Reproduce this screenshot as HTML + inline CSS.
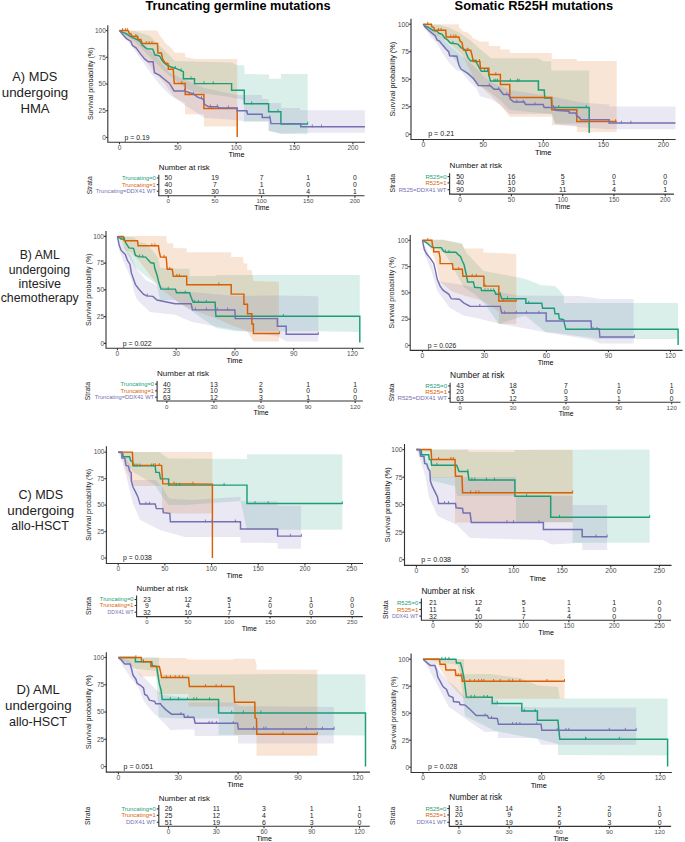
<!DOCTYPE html>
<html><head><meta charset="utf-8"><style>
html,body{margin:0;padding:0;background:#fff;width:685px;height:842px;overflow:hidden}
svg{display:block}
text{font-family:"Liberation Sans", sans-serif}
</style></head><body>
<svg width="685" height="842" viewBox="0 0 685 842">
<rect width="685" height="842" fill="#fff"/>
<text x="145.50" y="10.30" font-size="12.7" text-anchor="start" fill="#000" font-weight="bold" textLength="185" lengthAdjust="spacingAndGlyphs" >Truncating germline mutations</text>
<text x="454.60" y="10.30" font-size="12.7" text-anchor="start" fill="#000" font-weight="bold" textLength="158.5" lengthAdjust="spacingAndGlyphs" >Somatic R525H mutations</text>
<text x="34.75" y="80.90" font-size="13.2" text-anchor="middle" fill="#222" font-weight="normal" textLength="44.9" lengthAdjust="spacingAndGlyphs" >A) MDS</text>
<text x="35.02" y="96.90" font-size="13.2" text-anchor="middle" fill="#222" font-weight="normal" textLength="66.5" lengthAdjust="spacingAndGlyphs" >undergoing</text>
<text x="35.00" y="112.60" font-size="13.2" text-anchor="middle" fill="#222" font-weight="normal" textLength="29.2" lengthAdjust="spacingAndGlyphs" >HMA</text>
<text x="39.75" y="258.90" font-size="12.4" text-anchor="middle" fill="#222" font-weight="normal" textLength="40.1" lengthAdjust="spacingAndGlyphs" >B) AML</text>
<text x="39.43" y="273.50" font-size="12.4" text-anchor="middle" fill="#222" font-weight="normal" textLength="61.3" lengthAdjust="spacingAndGlyphs" >undergoing</text>
<text x="39.75" y="287.80" font-size="12.4" text-anchor="middle" fill="#222" font-weight="normal" textLength="42.7" lengthAdjust="spacingAndGlyphs" >intesive</text>
<text x="39.75" y="302.00" font-size="12.4" text-anchor="middle" fill="#222" font-weight="normal" textLength="78.1" lengthAdjust="spacingAndGlyphs" >chemotherapy</text>
<text x="40.75" y="498.90" font-size="13.2" text-anchor="middle" fill="#222" font-weight="normal" textLength="44.7" lengthAdjust="spacingAndGlyphs" >C) MDS</text>
<text x="40.70" y="514.70" font-size="13.2" text-anchor="middle" fill="#222" font-weight="normal" textLength="67.0" lengthAdjust="spacingAndGlyphs" >undergoing</text>
<text x="40.10" y="530.40" font-size="13.2" text-anchor="middle" fill="#222" font-weight="normal" textLength="57.8" lengthAdjust="spacingAndGlyphs" >allo-HSCT</text>
<text x="38.10" y="693.80" font-size="13.2" text-anchor="middle" fill="#222" font-weight="normal" textLength="43.4" lengthAdjust="spacingAndGlyphs" >D) AML</text>
<text x="38.30" y="709.80" font-size="13.2" text-anchor="middle" fill="#222" font-weight="normal" textLength="66.6" lengthAdjust="spacingAndGlyphs" >undergoing</text>
<text x="37.95" y="725.50" font-size="13.2" text-anchor="middle" fill="#222" font-weight="normal" textLength="58.1" lengthAdjust="spacingAndGlyphs" >allo-HSCT</text>
<polygon points="119.5,30.4 135.0,31.0 150.0,36.0 160.0,46.0 170.0,56.0 175.0,61.0 232.0,62.4 237.0,65.3 244.2,65.3 244.7,74.0 269.0,74.6 269.0,78.7 281.0,78.7 281.0,74.0 307.7,74.0 307.7,134.2 281.0,133.8 268.6,130.7 268.6,121.5 244.0,121.5 244.0,100.0 230.0,97.0 195.0,92.0 185.0,88.0 175.0,80.0 165.0,72.0 155.0,62.0 145.0,52.0 135.0,42.0 125.0,35.0" fill="#1B9E77" fill-opacity="0.16" stroke="none"/>
<polygon points="119.5,30.4 157.0,30.4 158.8,33.8 160.5,36.4 162.7,39.0 164.9,42.5 167.6,45.1 171.0,47.8 174.7,52.4 185.2,53.0 185.2,57.1 195.0,58.9 237.2,58.9 237.2,126.6 204.0,126.6 204.0,114.3 185.0,114.3 185.0,103.0 174.0,97.0 165.0,84.0 150.0,66.0 140.0,53.0 130.0,42.0 122.0,33.0" fill="#D95F02" fill-opacity="0.16" stroke="none"/>
<polygon points="119.5,30.4 130.0,33.0 145.0,45.0 155.0,55.0 170.0,73.0 185.0,80.0 204.0,88.0 237.0,95.0 262.0,95.0 262.0,99.0 268.6,99.0 268.6,103.0 281.0,103.0 281.0,108.0 300.0,108.0 300.0,110.2 364.9,110.2 364.9,132.8 300.0,132.8 281.0,133.8 268.6,130.7 268.6,121.5 244.0,121.5 237.0,120.0 204.0,117.8 185.0,105.0 170.0,95.0 160.0,85.0 150.0,72.0 140.0,58.0 130.0,44.0 121.0,33.3" fill="#7570B3" fill-opacity="0.16" stroke="none"/>
<polyline points="119.5,30.6 120.3,31.1 122.9,32.4 126.4,33.8 130.3,36.4 133.8,38.1 136.9,39.5 140.4,41.6 142.2,45.1 146.5,48.6 152.7,49.1 154.9,54.8 159.7,56.1 161.9,60.0 164.0,62.7 166.7,64.9 171.0,67.0 175.3,68.2 183.4,71.7 183.4,78.7 194.5,78.7 194.5,83.6 231.6,83.6 231.6,90.2 244.3,90.2 244.3,103.8 268.6,103.8 268.6,111.7 280.9,111.7 280.9,124.0 307.7,124.0" fill="none" stroke="#1B9E77" stroke-width="1.45" stroke-linejoin="miter"/>
<polyline points="119.5,30.4 128.1,30.4 129.5,33.8 130.8,33.8 132.1,36.4 137.3,36.2 138.2,39.5 140.8,39.5 142.2,43.4 157.5,43.4 157.9,53.0 161.4,53.0 162.7,59.2 164.9,62.7 168.0,63.5 168.4,69.2 173.2,69.2 174.2,83.4 185.2,83.4 185.2,94.5 203.9,94.5 203.9,108.5 237.2,108.5 237.2,137.1" fill="none" stroke="#D95F02" stroke-width="1.45" stroke-linejoin="miter"/>
<polyline points="119.4,30.4 122.0,33.8 126.4,38.6 130.8,41.2 132.5,45.6 136.0,47.8 140.4,53.9 144.8,59.2 148.3,61.8 153.1,61.8 154.4,72.7 159.7,75.4 164.9,79.7 169.3,83.2 174.1,91.0 184.6,91.0 193.4,93.9 198.0,97.4 203.3,99.1 204.5,104.4 208.5,106.7 217.9,106.7 219.0,107.9 237.2,107.9 237.2,110.8 246.5,110.8 247.7,114.3 262.2,114.3 262.2,117.5 270.0,117.5 271.0,123.6 300.7,123.6 300.7,126.8 364.9,126.8" fill="none" stroke="#7570B3" stroke-width="1.45" stroke-linejoin="miter"/>
<path d="M107.80,25.20 V142.30 H364.90" fill="none" stroke="#333333" stroke-width="1.10"/>
<line x1="105.80" y1="137.40" x2="107.80" y2="137.40" stroke="#333333" stroke-width="1.1"/>
<text x="105.80" y="139.70" font-size="6.5" text-anchor="end" fill="#4d4d4d" font-weight="normal" >0</text>
<line x1="105.80" y1="110.70" x2="107.80" y2="110.70" stroke="#333333" stroke-width="1.1"/>
<text x="105.80" y="113.00" font-size="6.5" text-anchor="end" fill="#4d4d4d" font-weight="normal" >25</text>
<line x1="105.80" y1="84.00" x2="107.80" y2="84.00" stroke="#333333" stroke-width="1.1"/>
<text x="105.80" y="86.30" font-size="6.5" text-anchor="end" fill="#4d4d4d" font-weight="normal" >50</text>
<line x1="105.80" y1="57.30" x2="107.80" y2="57.30" stroke="#333333" stroke-width="1.1"/>
<text x="105.80" y="59.60" font-size="6.5" text-anchor="end" fill="#4d4d4d" font-weight="normal" >75</text>
<line x1="105.80" y1="30.60" x2="107.80" y2="30.60" stroke="#333333" stroke-width="1.1"/>
<text x="105.80" y="32.90" font-size="6.5" text-anchor="end" fill="#4d4d4d" font-weight="normal" >100</text>
<line x1="119.50" y1="142.30" x2="119.50" y2="144.30" stroke="#333333" stroke-width="1.1"/>
<text x="119.50" y="149.70" font-size="6.6" text-anchor="middle" fill="#4d4d4d" font-weight="normal" >0</text>
<line x1="177.85" y1="142.30" x2="177.85" y2="144.30" stroke="#333333" stroke-width="1.1"/>
<text x="177.85" y="149.70" font-size="6.6" text-anchor="middle" fill="#4d4d4d" font-weight="normal" >50</text>
<line x1="236.20" y1="142.30" x2="236.20" y2="144.30" stroke="#333333" stroke-width="1.1"/>
<text x="236.20" y="149.70" font-size="6.6" text-anchor="middle" fill="#4d4d4d" font-weight="normal" >100</text>
<line x1="294.55" y1="142.30" x2="294.55" y2="144.30" stroke="#333333" stroke-width="1.1"/>
<text x="294.55" y="149.70" font-size="6.6" text-anchor="middle" fill="#4d4d4d" font-weight="normal" >150</text>
<line x1="352.90" y1="142.30" x2="352.90" y2="144.30" stroke="#333333" stroke-width="1.1"/>
<text x="352.90" y="149.70" font-size="6.6" text-anchor="middle" fill="#4d4d4d" font-weight="normal" >200</text>
<text x="236.50" y="157.30" font-size="7.3" text-anchor="middle" fill="#000" font-weight="normal" >Time</text>
<text x="0" y="0" font-size="7.10" text-anchor="middle" fill="#222" transform="translate(93.00,83.75) rotate(-90)">Survival probability (%)</text>
<text x="124.60" y="139.70" font-size="6.9" text-anchor="start" fill="#222" font-weight="normal" >p = 0.19</text>
<path d="M158.80,174.70 V195.70 H364.50" fill="none" stroke="#333333" stroke-width="1.10"/>
<text x="158.80" y="170.00" font-size="7.85" text-anchor="start" fill="#111" font-weight="normal" >Number at risk</text>
<line x1="156.80" y1="178.00" x2="158.80" y2="178.00" stroke="#333333" stroke-width="1.1"/>
<text x="155.80" y="180.00" font-size="5.82" text-anchor="end" fill="#1B9E77" font-weight="normal" >Truncating=0</text>
<text x="168.30" y="180.40" font-size="6.8" text-anchor="middle" fill="#222" font-weight="normal" >50</text>
<text x="214.95" y="180.40" font-size="6.8" text-anchor="middle" fill="#222" font-weight="normal" >19</text>
<text x="261.60" y="180.40" font-size="6.8" text-anchor="middle" fill="#222" font-weight="normal" >7</text>
<text x="308.25" y="180.40" font-size="6.8" text-anchor="middle" fill="#222" font-weight="normal" >1</text>
<text x="354.90" y="180.40" font-size="6.8" text-anchor="middle" fill="#222" font-weight="normal" >0</text>
<line x1="156.80" y1="184.60" x2="158.80" y2="184.60" stroke="#333333" stroke-width="1.1"/>
<text x="155.80" y="186.60" font-size="5.82" text-anchor="end" fill="#D95F02" font-weight="normal" >Truncating=1</text>
<text x="168.30" y="187.00" font-size="6.8" text-anchor="middle" fill="#222" font-weight="normal" >40</text>
<text x="214.95" y="187.00" font-size="6.8" text-anchor="middle" fill="#222" font-weight="normal" >7</text>
<text x="261.60" y="187.00" font-size="6.8" text-anchor="middle" fill="#222" font-weight="normal" >1</text>
<text x="308.25" y="187.00" font-size="6.8" text-anchor="middle" fill="#222" font-weight="normal" >0</text>
<text x="354.90" y="187.00" font-size="6.8" text-anchor="middle" fill="#222" font-weight="normal" >0</text>
<line x1="156.80" y1="191.20" x2="158.80" y2="191.20" stroke="#333333" stroke-width="1.1"/>
<text x="155.80" y="193.20" font-size="5.82" text-anchor="end" fill="#7570B3" font-weight="normal" >Truncating=DDX41 WT</text>
<text x="168.30" y="193.60" font-size="6.8" text-anchor="middle" fill="#222" font-weight="normal" >90</text>
<text x="214.95" y="193.60" font-size="6.8" text-anchor="middle" fill="#222" font-weight="normal" >30</text>
<text x="261.60" y="193.60" font-size="6.8" text-anchor="middle" fill="#222" font-weight="normal" >11</text>
<text x="308.25" y="193.60" font-size="6.8" text-anchor="middle" fill="#222" font-weight="normal" >4</text>
<text x="354.90" y="193.60" font-size="6.8" text-anchor="middle" fill="#222" font-weight="normal" >1</text>
<line x1="168.30" y1="195.70" x2="168.30" y2="197.70" stroke="#333333" stroke-width="1.1"/>
<text x="168.30" y="203.20" font-size="6.2" text-anchor="middle" fill="#4d4d4d" font-weight="normal" >0</text>
<line x1="214.95" y1="195.70" x2="214.95" y2="197.70" stroke="#333333" stroke-width="1.1"/>
<text x="214.95" y="203.20" font-size="6.2" text-anchor="middle" fill="#4d4d4d" font-weight="normal" >50</text>
<line x1="261.60" y1="195.70" x2="261.60" y2="197.70" stroke="#333333" stroke-width="1.1"/>
<text x="261.60" y="203.20" font-size="6.2" text-anchor="middle" fill="#4d4d4d" font-weight="normal" >100</text>
<line x1="308.25" y1="195.70" x2="308.25" y2="197.70" stroke="#333333" stroke-width="1.1"/>
<text x="308.25" y="203.20" font-size="6.2" text-anchor="middle" fill="#4d4d4d" font-weight="normal" >150</text>
<line x1="354.90" y1="195.70" x2="354.90" y2="197.70" stroke="#333333" stroke-width="1.1"/>
<text x="354.90" y="203.20" font-size="6.2" text-anchor="middle" fill="#4d4d4d" font-weight="normal" >200</text>
<text x="261.80" y="209.90" font-size="6.9" text-anchor="middle" fill="#000" font-weight="normal" >Time</text>
<text x="0" y="0" font-size="6.80" text-anchor="middle" fill="#222" transform="translate(91.60,185.30) rotate(-90)">Strata</text>
<line x1="175.30" y1="65.90" x2="175.30" y2="68.80" stroke="#1B9E77" stroke-width="0.9"/>
<line x1="181.10" y1="68.41" x2="181.10" y2="71.31" stroke="#1B9E77" stroke-width="0.9"/>
<line x1="191.00" y1="76.40" x2="191.00" y2="79.30" stroke="#1B9E77" stroke-width="0.9"/>
<line x1="203.90" y1="81.30" x2="203.90" y2="84.20" stroke="#1B9E77" stroke-width="0.9"/>
<line x1="213.20" y1="81.30" x2="213.20" y2="84.20" stroke="#1B9E77" stroke-width="0.9"/>
<line x1="251.70" y1="101.50" x2="251.70" y2="104.40" stroke="#1B9E77" stroke-width="0.9"/>
<line x1="278.00" y1="109.40" x2="278.00" y2="112.30" stroke="#1B9E77" stroke-width="0.9"/>
<line x1="307.70" y1="121.70" x2="307.70" y2="124.60" stroke="#1B9E77" stroke-width="0.9"/>
<line x1="122.60" y1="28.10" x2="122.60" y2="31.00" stroke="#D95F02" stroke-width="0.9"/>
<line x1="125.40" y1="28.10" x2="125.40" y2="31.00" stroke="#D95F02" stroke-width="0.9"/>
<line x1="127.30" y1="28.10" x2="127.30" y2="31.00" stroke="#D95F02" stroke-width="0.9"/>
<line x1="135.90" y1="33.95" x2="135.90" y2="36.85" stroke="#D95F02" stroke-width="0.9"/>
<line x1="137.80" y1="35.73" x2="137.80" y2="38.63" stroke="#D95F02" stroke-width="0.9"/>
<line x1="146.30" y1="41.10" x2="146.30" y2="44.00" stroke="#D95F02" stroke-width="0.9"/>
<line x1="149.20" y1="41.10" x2="149.20" y2="44.00" stroke="#D95F02" stroke-width="0.9"/>
<line x1="152.00" y1="41.10" x2="152.00" y2="44.00" stroke="#D95F02" stroke-width="0.9"/>
<line x1="181.70" y1="81.10" x2="181.70" y2="84.00" stroke="#D95F02" stroke-width="0.9"/>
<line x1="189.30" y1="92.20" x2="189.30" y2="95.10" stroke="#D95F02" stroke-width="0.9"/>
<line x1="211.50" y1="106.20" x2="211.50" y2="109.10" stroke="#D95F02" stroke-width="0.9"/>
<line x1="184.60" y1="88.70" x2="184.60" y2="91.60" stroke="#7570B3" stroke-width="0.9"/>
<line x1="193.40" y1="91.60" x2="193.40" y2="94.50" stroke="#7570B3" stroke-width="0.9"/>
<line x1="201.50" y1="96.22" x2="201.50" y2="99.12" stroke="#7570B3" stroke-width="0.9"/>
<line x1="210.30" y1="104.40" x2="210.30" y2="107.30" stroke="#7570B3" stroke-width="0.9"/>
<line x1="217.30" y1="104.40" x2="217.30" y2="107.30" stroke="#7570B3" stroke-width="0.9"/>
<line x1="228.40" y1="105.60" x2="228.40" y2="108.50" stroke="#7570B3" stroke-width="0.9"/>
<line x1="247.10" y1="110.25" x2="247.10" y2="113.15" stroke="#7570B3" stroke-width="0.9"/>
<line x1="269.80" y1="115.20" x2="269.80" y2="118.10" stroke="#7570B3" stroke-width="0.9"/>
<line x1="312.30" y1="124.50" x2="312.30" y2="127.40" stroke="#7570B3" stroke-width="0.9"/>
<line x1="321.50" y1="124.50" x2="321.50" y2="127.40" stroke="#7570B3" stroke-width="0.9"/>
<polygon points="423.3,24.2 440.0,25.0 450.0,28.0 460.0,33.0 470.0,40.0 480.0,49.0 491.1,58.3 537.8,58.3 543.6,61.2 551.2,61.2 551.2,70.4 589.2,70.4 589.2,123.5 555.0,123.5 551.8,114.0 509.8,110.0 500.0,100.0 491.0,93.0 480.4,85.4 470.0,77.3 458.9,64.5 450.0,54.0 440.0,44.0 430.0,33.0 425.0,28.0" fill="#1B9E77" fill-opacity="0.16" stroke="none"/>
<polygon points="423.3,24.2 458.9,24.2 458.9,27.2 463.0,31.3 467.1,32.3 471.2,35.4 472.7,37.9 479.9,41.5 488.8,41.4 488.8,46.0 500.4,46.0 500.4,49.5 509.8,49.5 509.8,53.0 551.8,53.0 551.8,59.0 576.8,59.0 576.8,60.9 616.7,60.9 616.7,132.0 576.8,132.0 576.8,125.4 551.8,124.9 551.8,116.7 509.8,116.7 500.4,105.0 491.0,96.0 480.0,86.0 474.6,80.0 462.3,54.6 450.0,44.0 440.0,37.0 430.0,31.0 425.0,27.0" fill="#D95F02" fill-opacity="0.16" stroke="none"/>
<polygon points="423.2,24.2 430.0,28.0 440.0,36.0 450.0,46.0 460.0,54.6 468.0,61.0 478.0,70.0 483.4,76.2 491.0,82.0 509.0,90.0 555.0,97.0 580.6,102.6 609.1,104.5 609.1,106.4 675.5,106.4 675.5,129.2 609.1,129.2 579.7,127.3 555.0,124.0 551.8,114.0 509.8,114.0 500.4,105.0 491.0,99.2 480.0,96.3 476.3,88.0 470.2,82.4 464.0,74.7 461.0,71.1 455.9,70.1 448.7,62.0 441.6,51.7 436.5,43.0 430.3,36.4 425.2,28.2" fill="#7570B3" fill-opacity="0.16" stroke="none"/>
<polyline points="423.3,24.2 425.2,26.2 428.3,27.2 432.9,30.3 437.0,31.3 439.0,33.3 442.1,34.3 444.6,37.9 447.7,40.0 450.3,43.0 457.9,44.1 461.0,47.6 465.1,49.7 466.1,52.7 468.1,57.9 470.7,60.9 475.3,60.4 477.3,64.0 480.4,69.6 481.4,71.3 488.5,71.3 488.8,75.2 490.5,81.1 538.4,81.1 538.4,89.9 544.2,89.9 544.8,98.0 551.2,98.0 551.8,107.4 589.2,107.4 589.2,133.0" fill="none" stroke="#1B9E77" stroke-width="1.49" stroke-linejoin="miter"/>
<polyline points="423.3,24.2 431.3,24.3 431.9,26.7 433.9,27.7 434.4,30.3 445.7,30.3 446.2,36.9 458.9,36.9 460.0,41.0 462.0,42.5 463.0,48.7 464.0,50.2 470.7,50.2 472.2,55.8 473.2,61.4 479.9,61.4 480.4,68.2 488.8,68.2 488.8,74.6 500.4,74.6 500.4,84.6 509.8,84.6 509.8,97.4 551.8,97.4 551.8,109.8 576.8,109.8 576.8,121.6 616.7,121.6" fill="none" stroke="#D95F02" stroke-width="1.49" stroke-linejoin="miter"/>
<polyline points="423.2,24.2 425.2,27.2 430.3,31.8 435.4,35.9 437.0,40.0 439.5,41.0 443.1,45.6 445.7,48.7 448.7,51.7 449.7,55.8 456.9,56.3 457.9,60.9 458.9,65.0 461.0,69.1 468.1,73.7 473.2,78.3 478.4,85.4 490.5,85.8 494.0,89.3 499.3,89.3 503.4,94.5 508.6,94.5 510.4,99.2 513.9,102.1 524.4,102.1 525.5,104.5 543.1,104.5 544.2,107.4 554.7,107.4 555.3,110.3 569.2,111.2 569.2,113.1 575.9,113.1 576.8,115.9 579.7,117.8 580.6,119.7 609.1,119.7 609.1,123.1 675.5,123.1" fill="none" stroke="#7570B3" stroke-width="1.49" stroke-linejoin="miter"/>
<path d="M411.00,18.80 V139.50 H675.70" fill="none" stroke="#333333" stroke-width="1.13"/>
<line x1="408.94" y1="134.30" x2="411.00" y2="134.30" stroke="#333333" stroke-width="1.1341"/>
<text x="408.94" y="136.67" font-size="6.701499999999999" text-anchor="end" fill="#4d4d4d" font-weight="normal" >0</text>
<line x1="408.94" y1="106.78" x2="411.00" y2="106.78" stroke="#333333" stroke-width="1.1341"/>
<text x="408.94" y="109.15" font-size="6.701499999999999" text-anchor="end" fill="#4d4d4d" font-weight="normal" >25</text>
<line x1="408.94" y1="79.25" x2="411.00" y2="79.25" stroke="#333333" stroke-width="1.1341"/>
<text x="408.94" y="81.62" font-size="6.701499999999999" text-anchor="end" fill="#4d4d4d" font-weight="normal" >50</text>
<line x1="408.94" y1="51.73" x2="411.00" y2="51.73" stroke="#333333" stroke-width="1.1341"/>
<text x="408.94" y="54.10" font-size="6.701499999999999" text-anchor="end" fill="#4d4d4d" font-weight="normal" >75</text>
<line x1="408.94" y1="24.20" x2="411.00" y2="24.20" stroke="#333333" stroke-width="1.1341"/>
<text x="408.94" y="26.57" font-size="6.701499999999999" text-anchor="end" fill="#4d4d4d" font-weight="normal" >100</text>
<line x1="423.30" y1="139.50" x2="423.30" y2="141.56" stroke="#333333" stroke-width="1.1341"/>
<text x="423.30" y="147.13" font-size="6.804599999999999" text-anchor="middle" fill="#4d4d4d" font-weight="normal" >0</text>
<line x1="483.30" y1="139.50" x2="483.30" y2="141.56" stroke="#333333" stroke-width="1.1341"/>
<text x="483.30" y="147.13" font-size="6.804599999999999" text-anchor="middle" fill="#4d4d4d" font-weight="normal" >50</text>
<line x1="543.30" y1="139.50" x2="543.30" y2="141.56" stroke="#333333" stroke-width="1.1341"/>
<text x="543.30" y="147.13" font-size="6.804599999999999" text-anchor="middle" fill="#4d4d4d" font-weight="normal" >100</text>
<line x1="603.30" y1="139.50" x2="603.30" y2="141.56" stroke="#333333" stroke-width="1.1341"/>
<text x="603.30" y="147.13" font-size="6.804599999999999" text-anchor="middle" fill="#4d4d4d" font-weight="normal" >150</text>
<line x1="663.30" y1="139.50" x2="663.30" y2="141.56" stroke="#333333" stroke-width="1.1341"/>
<text x="663.30" y="147.13" font-size="6.804599999999999" text-anchor="middle" fill="#4d4d4d" font-weight="normal" >200</text>
<text x="543.30" y="154.97" font-size="7.526299999999999" text-anchor="middle" fill="#000" font-weight="normal" >Time</text>
<text x="0" y="0" font-size="7.32" text-anchor="middle" fill="#222" transform="translate(395.27,79.15) rotate(-90)">Survival probability (%)</text>
<text x="428.20" y="136.20" font-size="7.1139" text-anchor="start" fill="#222" font-weight="normal" >p = 0.21</text>
<path d="M449.60,173.20 V194.10 H673.90" fill="none" stroke="#333333" stroke-width="1.13"/>
<text x="449.60" y="168.30" font-size="8.08" text-anchor="start" fill="#111" font-weight="normal" >Number at risk</text>
<line x1="447.54" y1="176.60" x2="449.60" y2="176.60" stroke="#333333" stroke-width="1.1341"/>
<text x="446.51" y="178.66" font-size="5.94" text-anchor="end" fill="#1B9E77" font-weight="normal" >R525=0</text>
<text x="460.10" y="179.07" font-size="7.010799999999999" text-anchor="middle" fill="#222" font-weight="normal" >50</text>
<text x="511.40" y="179.07" font-size="7.010799999999999" text-anchor="middle" fill="#222" font-weight="normal" >16</text>
<text x="562.70" y="179.07" font-size="7.010799999999999" text-anchor="middle" fill="#222" font-weight="normal" >5</text>
<text x="614.00" y="179.07" font-size="7.010799999999999" text-anchor="middle" fill="#222" font-weight="normal" >0</text>
<text x="665.30" y="179.07" font-size="7.010799999999999" text-anchor="middle" fill="#222" font-weight="normal" >0</text>
<line x1="447.54" y1="182.90" x2="449.60" y2="182.90" stroke="#333333" stroke-width="1.1341"/>
<text x="446.51" y="184.96" font-size="5.94" text-anchor="end" fill="#D95F02" font-weight="normal" >R525=1</text>
<text x="460.10" y="185.37" font-size="7.010799999999999" text-anchor="middle" fill="#222" font-weight="normal" >40</text>
<text x="511.40" y="185.37" font-size="7.010799999999999" text-anchor="middle" fill="#222" font-weight="normal" >10</text>
<text x="562.70" y="185.37" font-size="7.010799999999999" text-anchor="middle" fill="#222" font-weight="normal" >3</text>
<text x="614.00" y="185.37" font-size="7.010799999999999" text-anchor="middle" fill="#222" font-weight="normal" >1</text>
<text x="665.30" y="185.37" font-size="7.010799999999999" text-anchor="middle" fill="#222" font-weight="normal" >0</text>
<line x1="447.54" y1="189.70" x2="449.60" y2="189.70" stroke="#333333" stroke-width="1.1341"/>
<text x="446.51" y="191.76" font-size="5.94" text-anchor="end" fill="#7570B3" font-weight="normal" >R525=DDX41 WT</text>
<text x="460.10" y="192.17" font-size="7.010799999999999" text-anchor="middle" fill="#222" font-weight="normal" >90</text>
<text x="511.40" y="192.17" font-size="7.010799999999999" text-anchor="middle" fill="#222" font-weight="normal" >30</text>
<text x="562.70" y="192.17" font-size="7.010799999999999" text-anchor="middle" fill="#222" font-weight="normal" >11</text>
<text x="614.00" y="192.17" font-size="7.010799999999999" text-anchor="middle" fill="#222" font-weight="normal" >4</text>
<text x="665.30" y="192.17" font-size="7.010799999999999" text-anchor="middle" fill="#222" font-weight="normal" >1</text>
<line x1="460.10" y1="194.10" x2="460.10" y2="196.16" stroke="#333333" stroke-width="1.1341"/>
<text x="460.10" y="201.83" font-size="6.3922" text-anchor="middle" fill="#4d4d4d" font-weight="normal" >0</text>
<line x1="511.40" y1="194.10" x2="511.40" y2="196.16" stroke="#333333" stroke-width="1.1341"/>
<text x="511.40" y="201.83" font-size="6.3922" text-anchor="middle" fill="#4d4d4d" font-weight="normal" >50</text>
<line x1="562.70" y1="194.10" x2="562.70" y2="196.16" stroke="#333333" stroke-width="1.1341"/>
<text x="562.70" y="201.83" font-size="6.3922" text-anchor="middle" fill="#4d4d4d" font-weight="normal" >100</text>
<line x1="614.00" y1="194.10" x2="614.00" y2="196.16" stroke="#333333" stroke-width="1.1341"/>
<text x="614.00" y="201.83" font-size="6.3922" text-anchor="middle" fill="#4d4d4d" font-weight="normal" >150</text>
<line x1="665.30" y1="194.10" x2="665.30" y2="196.16" stroke="#333333" stroke-width="1.1341"/>
<text x="665.30" y="201.83" font-size="6.3922" text-anchor="middle" fill="#4d4d4d" font-weight="normal" >200</text>
<text x="562.50" y="208.74" font-size="7.1139" text-anchor="middle" fill="#000" font-weight="normal" >Time</text>
<text x="0" y="0" font-size="7.01" text-anchor="middle" fill="#222" transform="translate(395.17,183.20) rotate(-90)">Strata</text>
<line x1="452.80" y1="40.99" x2="452.80" y2="43.98" stroke="#1B9E77" stroke-width="0.9279"/>
<line x1="476.30" y1="59.83" x2="476.30" y2="62.82" stroke="#1B9E77" stroke-width="0.9279"/>
<line x1="484.70" y1="68.93" x2="484.70" y2="71.92" stroke="#1B9E77" stroke-width="0.9279"/>
<line x1="487.60" y1="68.93" x2="487.60" y2="71.92" stroke="#1B9E77" stroke-width="0.9279"/>
<line x1="494.00" y1="78.73" x2="494.00" y2="81.72" stroke="#1B9E77" stroke-width="0.9279"/>
<line x1="495.80" y1="78.73" x2="495.80" y2="81.72" stroke="#1B9E77" stroke-width="0.9279"/>
<line x1="497.50" y1="78.73" x2="497.50" y2="81.72" stroke="#1B9E77" stroke-width="0.9279"/>
<line x1="510.40" y1="78.73" x2="510.40" y2="81.72" stroke="#1B9E77" stroke-width="0.9279"/>
<line x1="517.40" y1="78.73" x2="517.40" y2="81.72" stroke="#1B9E77" stroke-width="0.9279"/>
<line x1="519.10" y1="78.73" x2="519.10" y2="81.72" stroke="#1B9E77" stroke-width="0.9279"/>
<line x1="558.80" y1="105.03" x2="558.80" y2="108.02" stroke="#1B9E77" stroke-width="0.9279"/>
<line x1="586.30" y1="105.03" x2="586.30" y2="108.02" stroke="#1B9E77" stroke-width="0.9279"/>
<line x1="427.80" y1="21.88" x2="427.80" y2="24.87" stroke="#D95F02" stroke-width="0.9279"/>
<line x1="438.50" y1="27.93" x2="438.50" y2="30.92" stroke="#D95F02" stroke-width="0.9279"/>
<line x1="441.10" y1="27.93" x2="441.10" y2="30.92" stroke="#D95F02" stroke-width="0.9279"/>
<line x1="450.80" y1="34.53" x2="450.80" y2="37.52" stroke="#D95F02" stroke-width="0.9279"/>
<line x1="453.80" y1="34.53" x2="453.80" y2="37.52" stroke="#D95F02" stroke-width="0.9279"/>
<line x1="455.90" y1="34.53" x2="455.90" y2="37.52" stroke="#D95F02" stroke-width="0.9279"/>
<line x1="467.10" y1="47.83" x2="467.10" y2="50.82" stroke="#D95F02" stroke-width="0.9279"/>
<line x1="468.10" y1="47.83" x2="468.10" y2="50.82" stroke="#D95F02" stroke-width="0.9279"/>
<line x1="479.40" y1="59.03" x2="479.40" y2="62.02" stroke="#D95F02" stroke-width="0.9279"/>
<line x1="495.80" y1="72.23" x2="495.80" y2="75.22" stroke="#D95F02" stroke-width="0.9279"/>
<line x1="615.70" y1="119.23" x2="615.70" y2="122.22" stroke="#D95F02" stroke-width="0.9279"/>
<line x1="489.30" y1="83.39" x2="489.30" y2="86.38" stroke="#7570B3" stroke-width="0.9279"/>
<line x1="498.70" y1="86.93" x2="498.70" y2="89.92" stroke="#7570B3" stroke-width="0.9279"/>
<line x1="506.90" y1="92.13" x2="506.90" y2="95.12" stroke="#7570B3" stroke-width="0.9279"/>
<line x1="516.80" y1="99.73" x2="516.80" y2="102.72" stroke="#7570B3" stroke-width="0.9279"/>
<line x1="523.20" y1="99.73" x2="523.20" y2="102.72" stroke="#7570B3" stroke-width="0.9279"/>
<line x1="534.90" y1="102.13" x2="534.90" y2="105.12" stroke="#7570B3" stroke-width="0.9279"/>
<line x1="553.60" y1="105.03" x2="553.60" y2="108.02" stroke="#7570B3" stroke-width="0.9279"/>
<line x1="621.40" y1="120.73" x2="621.40" y2="123.72" stroke="#7570B3" stroke-width="0.9279"/>
<line x1="630.90" y1="120.73" x2="630.90" y2="123.72" stroke="#7570B3" stroke-width="0.9279"/>
<polygon points="117.4,236.5 133.5,237.2 139.6,242.3 145.7,243.3 152.0,250.0 158.0,257.6 160.0,267.8 175.0,268.7 189.6,268.7 189.6,276.0 215.9,276.0 215.9,275.1 359.8,275.1 359.8,332.1 317.6,331.3 235.0,331.3 216.0,328.0 193.0,312.0 175.0,300.0 160.0,300.0 157.0,285.0 154.9,283.1 145.7,276.0 135.5,267.8 128.0,255.0 122.0,244.0" fill="#1B9E77" fill-opacity="0.16" stroke="none"/>
<polygon points="117.4,236.1 166.2,236.1 167.2,243.3 173.3,243.3 173.3,247.9 186.7,248.2 186.7,252.2 231.2,252.2 231.2,257.0 242.9,257.0 243.6,263.6 247.3,263.6 247.3,270.1 251.6,270.1 253.4,281.0 278.9,281.7 278.9,341.5 253.4,341.5 247.0,331.0 231.0,325.0 215.0,318.0 192.0,310.0 175.0,300.0 160.0,288.0 150.0,275.0 140.0,262.0 130.0,252.0 125.0,250.0 122.0,241.0" fill="#D95F02" fill-opacity="0.16" stroke="none"/>
<polygon points="117.4,236.5 122.2,244.3 130.4,254.5 136.5,268.8 145.7,280.0 157.0,285.2 175.0,290.0 191.0,292.0 235.0,296.0 278.9,295.5 318.3,296.3 318.3,341.5 286.2,341.5 277.0,336.0 235.0,330.0 192.0,322.0 175.0,314.7 150.0,312.0 137.5,300.0 135.5,296.4 133.5,289.3 131.4,279.0 127.3,269.9 123.2,260.7 119.0,250.0 118.6,238.2" fill="#7570B3" fill-opacity="0.16" stroke="none"/>
<polyline points="117.4,236.5 120.7,238.7 124.3,239.2 125.8,242.8 128.9,247.9 133.5,248.4 135.5,255.5 138.6,256.6 145.7,257.1 147.8,259.6 150.8,262.7 153.9,263.2 154.9,268.8 157.0,275.0 159.0,283.1 161.0,289.1 175.4,289.1 176.5,292.8 189.6,292.8 191.1,297.2 193.2,302.3 215.1,302.3 215.9,316.3 359.8,316.3 359.8,342.6" fill="none" stroke="#1B9E77" stroke-width="1.45" stroke-linejoin="miter"/>
<polyline points="117.4,236.5 123.2,236.5 124.3,240.7 137.5,240.7 138.1,245.8 158.5,245.8 159.0,250.4 160.5,257.1 166.2,257.1 167.2,269.3 172.3,269.3 173.3,276.2 186.7,276.2 186.7,284.7 231.2,284.7 231.2,294.1 243.9,294.1 243.9,304.3 247.5,304.3 247.5,313.8 251.9,313.8 251.9,324.0 253.4,324.0 253.4,333.5 279.6,333.5" fill="none" stroke="#D95F02" stroke-width="1.45" stroke-linejoin="miter"/>
<polyline points="117.4,236.5 119.2,245.3 121.2,250.4 125.3,254.5 127.3,260.1 129.9,264.2 131.4,272.9 133.5,279.0 135.5,284.7 138.6,288.8 143.7,294.4 146.7,295.9 152.9,296.4 157.0,300.0 175.0,303.7 191.1,303.7 192.5,309.8 234.9,310.0 235.3,318.6 277.4,318.6 277.4,326.2 286.2,326.2 286.2,334.2 318.3,334.2" fill="none" stroke="#7570B3" stroke-width="1.45" stroke-linejoin="miter"/>
<path d="M106.00,231.10 V348.30 H363.80" fill="none" stroke="#333333" stroke-width="1.10"/>
<line x1="104.00" y1="343.40" x2="106.00" y2="343.40" stroke="#333333" stroke-width="1.1022"/>
<text x="104.00" y="345.70" font-size="6.513" text-anchor="end" fill="#4d4d4d" font-weight="normal" >0</text>
<line x1="104.00" y1="316.65" x2="106.00" y2="316.65" stroke="#333333" stroke-width="1.1022"/>
<text x="104.00" y="318.95" font-size="6.513" text-anchor="end" fill="#4d4d4d" font-weight="normal" >25</text>
<line x1="104.00" y1="289.90" x2="106.00" y2="289.90" stroke="#333333" stroke-width="1.1022"/>
<text x="104.00" y="292.20" font-size="6.513" text-anchor="end" fill="#4d4d4d" font-weight="normal" >50</text>
<line x1="104.00" y1="263.15" x2="106.00" y2="263.15" stroke="#333333" stroke-width="1.1022"/>
<text x="104.00" y="265.45" font-size="6.513" text-anchor="end" fill="#4d4d4d" font-weight="normal" >75</text>
<line x1="104.00" y1="236.40" x2="106.00" y2="236.40" stroke="#333333" stroke-width="1.1022"/>
<text x="104.00" y="238.70" font-size="6.513" text-anchor="end" fill="#4d4d4d" font-weight="normal" >100</text>
<line x1="117.40" y1="348.30" x2="117.40" y2="350.30" stroke="#333333" stroke-width="1.1022"/>
<text x="117.40" y="355.71" font-size="6.6132" text-anchor="middle" fill="#4d4d4d" font-weight="normal" >0</text>
<line x1="176.17" y1="348.30" x2="176.17" y2="350.30" stroke="#333333" stroke-width="1.1022"/>
<text x="176.17" y="355.71" font-size="6.6132" text-anchor="middle" fill="#4d4d4d" font-weight="normal" >30</text>
<line x1="234.94" y1="348.30" x2="234.94" y2="350.30" stroke="#333333" stroke-width="1.1022"/>
<text x="234.94" y="355.71" font-size="6.6132" text-anchor="middle" fill="#4d4d4d" font-weight="normal" >60</text>
<line x1="293.71" y1="348.30" x2="293.71" y2="350.30" stroke="#333333" stroke-width="1.1022"/>
<text x="293.71" y="355.71" font-size="6.6132" text-anchor="middle" fill="#4d4d4d" font-weight="normal" >90</text>
<line x1="352.48" y1="348.30" x2="352.48" y2="350.30" stroke="#333333" stroke-width="1.1022"/>
<text x="352.48" y="355.71" font-size="6.6132" text-anchor="middle" fill="#4d4d4d" font-weight="normal" >120</text>
<text x="234.50" y="363.33" font-size="7.3145999999999995" text-anchor="middle" fill="#000" font-weight="normal" >Time</text>
<text x="0" y="0" font-size="7.11" text-anchor="middle" fill="#222" transform="translate(91.00,289.70) rotate(-90)">Survival probability (%)</text>
<text x="122.70" y="345.90" font-size="6.9138" text-anchor="start" fill="#222" font-weight="normal" >p = 0.022</text>
<path d="M157.10,380.90 V401.00 H362.80" fill="none" stroke="#333333" stroke-width="1.10"/>
<text x="157.10" y="376.40" font-size="8.0" text-anchor="start" fill="#111" font-weight="normal" >Number at risk</text>
<line x1="155.10" y1="384.10" x2="157.10" y2="384.10" stroke="#333333" stroke-width="1.1022"/>
<text x="154.09" y="386.10" font-size="5.75" text-anchor="end" fill="#1B9E77" font-weight="normal" >Truncating=0</text>
<text x="166.80" y="386.50" font-size="6.8136" text-anchor="middle" fill="#222" font-weight="normal" >40</text>
<text x="213.90" y="386.50" font-size="6.8136" text-anchor="middle" fill="#222" font-weight="normal" >13</text>
<text x="261.00" y="386.50" font-size="6.8136" text-anchor="middle" fill="#222" font-weight="normal" >2</text>
<text x="308.10" y="386.50" font-size="6.8136" text-anchor="middle" fill="#222" font-weight="normal" >1</text>
<text x="355.20" y="386.50" font-size="6.8136" text-anchor="middle" fill="#222" font-weight="normal" >1</text>
<line x1="155.10" y1="390.80" x2="157.10" y2="390.80" stroke="#333333" stroke-width="1.1022"/>
<text x="154.09" y="392.80" font-size="5.75" text-anchor="end" fill="#D95F02" font-weight="normal" >Truncating=1</text>
<text x="166.80" y="393.20" font-size="6.8136" text-anchor="middle" fill="#222" font-weight="normal" >23</text>
<text x="213.90" y="393.20" font-size="6.8136" text-anchor="middle" fill="#222" font-weight="normal" >10</text>
<text x="261.00" y="393.20" font-size="6.8136" text-anchor="middle" fill="#222" font-weight="normal" >5</text>
<text x="308.10" y="393.20" font-size="6.8136" text-anchor="middle" fill="#222" font-weight="normal" >0</text>
<text x="355.20" y="393.20" font-size="6.8136" text-anchor="middle" fill="#222" font-weight="normal" >0</text>
<line x1="155.10" y1="397.20" x2="157.10" y2="397.20" stroke="#333333" stroke-width="1.1022"/>
<text x="154.09" y="399.20" font-size="5.75" text-anchor="end" fill="#7570B3" font-weight="normal" >Truncating=DDX41 WT</text>
<text x="166.80" y="399.60" font-size="6.8136" text-anchor="middle" fill="#222" font-weight="normal" >63</text>
<text x="213.90" y="399.60" font-size="6.8136" text-anchor="middle" fill="#222" font-weight="normal" >12</text>
<text x="261.00" y="399.60" font-size="6.8136" text-anchor="middle" fill="#222" font-weight="normal" >3</text>
<text x="308.10" y="399.60" font-size="6.8136" text-anchor="middle" fill="#222" font-weight="normal" >1</text>
<text x="355.20" y="399.60" font-size="6.8136" text-anchor="middle" fill="#222" font-weight="normal" >0</text>
<line x1="166.80" y1="401.00" x2="166.80" y2="403.00" stroke="#333333" stroke-width="1.1022"/>
<text x="166.80" y="408.51" font-size="6.212400000000001" text-anchor="middle" fill="#4d4d4d" font-weight="normal" >0</text>
<line x1="213.90" y1="401.00" x2="213.90" y2="403.00" stroke="#333333" stroke-width="1.1022"/>
<text x="213.90" y="408.51" font-size="6.212400000000001" text-anchor="middle" fill="#4d4d4d" font-weight="normal" >30</text>
<line x1="261.00" y1="401.00" x2="261.00" y2="403.00" stroke="#333333" stroke-width="1.1022"/>
<text x="261.00" y="408.51" font-size="6.212400000000001" text-anchor="middle" fill="#4d4d4d" font-weight="normal" >60</text>
<line x1="308.10" y1="401.00" x2="308.10" y2="403.00" stroke="#333333" stroke-width="1.1022"/>
<text x="308.10" y="408.51" font-size="6.212400000000001" text-anchor="middle" fill="#4d4d4d" font-weight="normal" >90</text>
<line x1="355.20" y1="401.00" x2="355.20" y2="403.00" stroke="#333333" stroke-width="1.1022"/>
<text x="355.20" y="408.51" font-size="6.212400000000001" text-anchor="middle" fill="#4d4d4d" font-weight="normal" >120</text>
<text x="261.00" y="415.23" font-size="6.9138" text-anchor="middle" fill="#000" font-weight="normal" >Time</text>
<text x="0" y="0" font-size="6.81" text-anchor="middle" fill="#222" transform="translate(90.30,391.10) rotate(-90)">Strata</text>
<line x1="121.20" y1="236.46" x2="121.20" y2="239.37" stroke="#1B9E77" stroke-width="0.9018"/>
<line x1="124.30" y1="236.90" x2="124.30" y2="239.80" stroke="#1B9E77" stroke-width="0.9018"/>
<line x1="139.60" y1="254.37" x2="139.60" y2="257.27" stroke="#1B9E77" stroke-width="0.9018"/>
<line x1="142.70" y1="254.58" x2="142.70" y2="257.49" stroke="#1B9E77" stroke-width="0.9018"/>
<line x1="168.20" y1="286.80" x2="168.20" y2="289.70" stroke="#1B9E77" stroke-width="0.9018"/>
<line x1="185.20" y1="290.50" x2="185.20" y2="293.40" stroke="#1B9E77" stroke-width="0.9018"/>
<line x1="194.70" y1="300.00" x2="194.70" y2="302.90" stroke="#1B9E77" stroke-width="0.9018"/>
<line x1="198.40" y1="300.00" x2="198.40" y2="302.90" stroke="#1B9E77" stroke-width="0.9018"/>
<line x1="206.40" y1="300.00" x2="206.40" y2="302.90" stroke="#1B9E77" stroke-width="0.9018"/>
<line x1="283.30" y1="314.00" x2="283.30" y2="316.90" stroke="#1B9E77" stroke-width="0.9018"/>
<line x1="151.90" y1="243.50" x2="151.90" y2="246.40" stroke="#D95F02" stroke-width="0.9018"/>
<line x1="154.90" y1="243.50" x2="154.90" y2="246.40" stroke="#D95F02" stroke-width="0.9018"/>
<line x1="164.10" y1="254.80" x2="164.10" y2="257.70" stroke="#D95F02" stroke-width="0.9018"/>
<line x1="169.70" y1="267.00" x2="169.70" y2="269.90" stroke="#D95F02" stroke-width="0.9018"/>
<line x1="176.90" y1="273.90" x2="176.90" y2="276.80" stroke="#D95F02" stroke-width="0.9018"/>
<line x1="179.40" y1="273.90" x2="179.40" y2="276.80" stroke="#D95F02" stroke-width="0.9018"/>
<line x1="218.80" y1="282.40" x2="218.80" y2="285.30" stroke="#D95F02" stroke-width="0.9018"/>
<line x1="279.60" y1="331.20" x2="279.60" y2="334.10" stroke="#D95F02" stroke-width="0.9018"/>
<line x1="147.30" y1="293.64" x2="147.30" y2="296.55" stroke="#7570B3" stroke-width="0.9018"/>
<line x1="195.40" y1="307.51" x2="195.40" y2="310.41" stroke="#7570B3" stroke-width="0.9018"/>
<line x1="206.40" y1="307.56" x2="206.40" y2="310.47" stroke="#7570B3" stroke-width="0.9018"/>
<line x1="217.30" y1="307.61" x2="217.30" y2="310.52" stroke="#7570B3" stroke-width="0.9018"/>
<line x1="227.60" y1="307.66" x2="227.60" y2="310.57" stroke="#7570B3" stroke-width="0.9018"/>
<line x1="318.30" y1="331.90" x2="318.30" y2="334.80" stroke="#7570B3" stroke-width="0.9018"/>
<polygon points="422.4,240.3 443.0,240.0 462.0,243.3 466.1,252.5 483.5,270.9 516.2,277.0 525.4,279.0 541.7,285.2 555.0,286.0 558.6,289.6 563.7,295.5 564.0,303.0 678.1,303.0 678.1,339.0 600.0,339.0 554.2,332.7 545.8,332.2 525.4,315.8 517.2,317.9 498.8,324.0 484.5,303.6 476.3,295.4 464.0,287.2 445.7,254.5 432.0,245.0 425.0,242.0" fill="#1B9E77" fill-opacity="0.16" stroke="none"/>
<polygon points="422.4,239.6 443.0,239.6 462.0,244.3 464.0,248.4 483.5,248.4 483.5,252.5 498.0,253.1 516.3,253.9 516.3,324.0 498.8,324.0 498.8,311.7 482.4,300.5 464.0,295.4 451.8,291.3 439.5,281.1 435.4,260.7 431.4,250.4 426.0,243.0" fill="#D95F02" fill-opacity="0.16" stroke="none"/>
<polygon points="422.4,240.3 428.0,252.0 437.5,281.1 464.0,285.2 482.4,289.3 517.2,295.4 580.0,296.0 590.7,297.6 600.0,299.1 633.6,299.1 633.6,343.6 600.0,343.6 591.5,339.7 545.8,332.2 500.8,324.0 476.3,317.9 464.0,315.8 449.7,307.7 437.5,291.3 431.4,270.9 425.0,255.0" fill="#7570B3" fill-opacity="0.16" stroke="none"/>
<polyline points="422.4,240.3 426.7,242.9 430.2,245.8 432.5,247.6 441.3,247.6 443.6,251.1 446.5,252.3 455.9,252.3 458.2,254.6 460.5,256.4 462.3,261.0 464.0,264.5 466.4,275.0 467.6,282.0 473.4,282.0 474.6,287.3 481.0,287.9 481.6,290.6 494.4,290.6 495.8,294.3 500.2,294.3 501.7,298.7 525.8,298.7 525.8,303.2 541.8,303.2 542.6,308.3 554.2,308.3 555.0,313.7 558.6,313.7 559.3,318.8 563.7,319.6 564.5,323.9 565.9,329.2 678.1,329.2 678.1,345.1" fill="none" stroke="#1B9E77" stroke-width="1.43" stroke-linejoin="miter"/>
<polyline points="422.4,240.3 431.9,240.3 432.5,245.8 433.7,247.6 433.7,251.7 438.9,251.7 440.1,258.1 440.1,263.6 452.4,263.6 453.0,269.2 462.3,269.2 462.9,276.2 483.9,276.2 483.9,286.1 498.8,286.1 498.8,301.0 516.3,301.0" fill="none" stroke="#D95F02" stroke-width="1.43" stroke-linejoin="miter"/>
<polyline points="422.4,240.3 424.3,249.4 426.7,254.0 430.2,258.1 433.7,263.4 435.4,270.4 437.2,279.1 440.1,286.1 443.0,290.2 448.9,294.3 451.2,298.6 459.4,299.3 464.0,303.1 469.9,306.2 500.2,306.4 501.7,313.0 546.2,313.0 546.2,321.0 591.0,321.0 591.5,329.0 599.2,329.0 599.9,337.0 634.4,337.0" fill="none" stroke="#7570B3" stroke-width="1.43" stroke-linejoin="miter"/>
<path d="M410.20,235.10 V350.40 H682.50" fill="none" stroke="#333333" stroke-width="1.08"/>
<line x1="408.23" y1="345.40" x2="410.20" y2="345.40" stroke="#333333" stroke-width="1.0824"/>
<text x="408.23" y="347.66" font-size="6.396" text-anchor="end" fill="#4d4d4d" font-weight="normal" >0</text>
<line x1="408.23" y1="319.12" x2="410.20" y2="319.12" stroke="#333333" stroke-width="1.0824"/>
<text x="408.23" y="321.39" font-size="6.396" text-anchor="end" fill="#4d4d4d" font-weight="normal" >25</text>
<line x1="408.23" y1="292.85" x2="410.20" y2="292.85" stroke="#333333" stroke-width="1.0824"/>
<text x="408.23" y="295.11" font-size="6.396" text-anchor="end" fill="#4d4d4d" font-weight="normal" >50</text>
<line x1="408.23" y1="266.57" x2="410.20" y2="266.57" stroke="#333333" stroke-width="1.0824"/>
<text x="408.23" y="268.84" font-size="6.396" text-anchor="end" fill="#4d4d4d" font-weight="normal" >75</text>
<line x1="408.23" y1="240.30" x2="410.20" y2="240.30" stroke="#333333" stroke-width="1.0824"/>
<text x="408.23" y="242.56" font-size="6.396" text-anchor="end" fill="#4d4d4d" font-weight="normal" >100</text>
<line x1="422.40" y1="350.40" x2="422.40" y2="352.37" stroke="#333333" stroke-width="1.0824"/>
<text x="422.40" y="357.68" font-size="6.4944" text-anchor="middle" fill="#4d4d4d" font-weight="normal" >0</text>
<line x1="484.41" y1="350.40" x2="484.41" y2="352.37" stroke="#333333" stroke-width="1.0824"/>
<text x="484.41" y="357.68" font-size="6.4944" text-anchor="middle" fill="#4d4d4d" font-weight="normal" >30</text>
<line x1="546.42" y1="350.40" x2="546.42" y2="352.37" stroke="#333333" stroke-width="1.0824"/>
<text x="546.42" y="357.68" font-size="6.4944" text-anchor="middle" fill="#4d4d4d" font-weight="normal" >60</text>
<line x1="608.43" y1="350.40" x2="608.43" y2="352.37" stroke="#333333" stroke-width="1.0824"/>
<text x="608.43" y="357.68" font-size="6.4944" text-anchor="middle" fill="#4d4d4d" font-weight="normal" >90</text>
<line x1="670.44" y1="350.40" x2="670.44" y2="352.37" stroke="#333333" stroke-width="1.0824"/>
<text x="670.44" y="357.68" font-size="6.4944" text-anchor="middle" fill="#4d4d4d" font-weight="normal" >120</text>
<text x="545.60" y="365.16" font-size="7.183199999999999" text-anchor="middle" fill="#000" font-weight="normal" >Time</text>
<text x="0" y="0" font-size="6.99" text-anchor="middle" fill="#222" transform="translate(393.76,292.75) rotate(-90)">Survival probability (%)</text>
<text x="427.80" y="347.70" font-size="6.7896" text-anchor="start" fill="#222" font-weight="normal" >p = 0.026</text>
<path d="M450.10,382.70 V402.20 H680.50" fill="none" stroke="#333333" stroke-width="1.08"/>
<text x="450.10" y="377.70" font-size="8.4" text-anchor="start" fill="#111" font-weight="normal" >Number at risk</text>
<line x1="448.13" y1="385.90" x2="450.10" y2="385.90" stroke="#333333" stroke-width="1.0824"/>
<text x="447.15" y="387.87" font-size="6.2" text-anchor="end" fill="#1B9E77" font-weight="normal" >R525=0</text>
<text x="460.10" y="388.26" font-size="6.691199999999999" text-anchor="middle" fill="#222" font-weight="normal" >43</text>
<text x="513.00" y="388.26" font-size="6.691199999999999" text-anchor="middle" fill="#222" font-weight="normal" >18</text>
<text x="565.90" y="388.26" font-size="6.691199999999999" text-anchor="middle" fill="#222" font-weight="normal" >7</text>
<text x="618.80" y="388.26" font-size="6.691199999999999" text-anchor="middle" fill="#222" font-weight="normal" >1</text>
<text x="671.70" y="388.26" font-size="6.691199999999999" text-anchor="middle" fill="#222" font-weight="normal" >1</text>
<line x1="448.13" y1="392.00" x2="450.10" y2="392.00" stroke="#333333" stroke-width="1.0824"/>
<text x="447.15" y="393.97" font-size="6.2" text-anchor="end" fill="#D95F02" font-weight="normal" >R525=1</text>
<text x="460.10" y="394.36" font-size="6.691199999999999" text-anchor="middle" fill="#222" font-weight="normal" >20</text>
<text x="513.00" y="394.36" font-size="6.691199999999999" text-anchor="middle" fill="#222" font-weight="normal" >5</text>
<text x="565.90" y="394.36" font-size="6.691199999999999" text-anchor="middle" fill="#222" font-weight="normal" >0</text>
<text x="618.80" y="394.36" font-size="6.691199999999999" text-anchor="middle" fill="#222" font-weight="normal" >0</text>
<text x="671.70" y="394.36" font-size="6.691199999999999" text-anchor="middle" fill="#222" font-weight="normal" >0</text>
<line x1="448.13" y1="398.40" x2="450.10" y2="398.40" stroke="#333333" stroke-width="1.0824"/>
<text x="447.15" y="400.37" font-size="6.2" text-anchor="end" fill="#7570B3" font-weight="normal" >R525=DDX41 WT</text>
<text x="460.10" y="400.76" font-size="6.691199999999999" text-anchor="middle" fill="#222" font-weight="normal" >63</text>
<text x="513.00" y="400.76" font-size="6.691199999999999" text-anchor="middle" fill="#222" font-weight="normal" >12</text>
<text x="565.90" y="400.76" font-size="6.691199999999999" text-anchor="middle" fill="#222" font-weight="normal" >3</text>
<text x="618.80" y="400.76" font-size="6.691199999999999" text-anchor="middle" fill="#222" font-weight="normal" >1</text>
<text x="671.70" y="400.76" font-size="6.691199999999999" text-anchor="middle" fill="#222" font-weight="normal" >0</text>
<line x1="460.10" y1="402.20" x2="460.10" y2="404.17" stroke="#333333" stroke-width="1.0824"/>
<text x="460.10" y="409.58" font-size="6.1008000000000004" text-anchor="middle" fill="#4d4d4d" font-weight="normal" >0</text>
<line x1="513.00" y1="402.20" x2="513.00" y2="404.17" stroke="#333333" stroke-width="1.0824"/>
<text x="513.00" y="409.58" font-size="6.1008000000000004" text-anchor="middle" fill="#4d4d4d" font-weight="normal" >30</text>
<line x1="565.90" y1="402.20" x2="565.90" y2="404.17" stroke="#333333" stroke-width="1.0824"/>
<text x="565.90" y="409.58" font-size="6.1008000000000004" text-anchor="middle" fill="#4d4d4d" font-weight="normal" >60</text>
<line x1="618.80" y1="402.20" x2="618.80" y2="404.17" stroke="#333333" stroke-width="1.0824"/>
<text x="618.80" y="409.58" font-size="6.1008000000000004" text-anchor="middle" fill="#4d4d4d" font-weight="normal" >90</text>
<line x1="671.70" y1="402.20" x2="671.70" y2="404.17" stroke="#333333" stroke-width="1.0824"/>
<text x="671.70" y="409.58" font-size="6.1008000000000004" text-anchor="middle" fill="#4d4d4d" font-weight="normal" >120</text>
<text x="566.10" y="416.17" font-size="6.7896" text-anchor="middle" fill="#000" font-weight="normal" >Time</text>
<text x="0" y="0" font-size="6.69" text-anchor="middle" fill="#222" transform="translate(393.66,392.40) rotate(-90)">Strata</text>
<line x1="445.40" y1="249.58" x2="445.40" y2="252.44" stroke="#1B9E77" stroke-width="0.8856"/>
<line x1="448.90" y1="250.04" x2="448.90" y2="252.89" stroke="#1B9E77" stroke-width="0.8856"/>
<line x1="485.00" y1="288.34" x2="485.00" y2="291.19" stroke="#1B9E77" stroke-width="0.8856"/>
<line x1="488.00" y1="288.34" x2="488.00" y2="291.19" stroke="#1B9E77" stroke-width="0.8856"/>
<line x1="490.90" y1="288.34" x2="490.90" y2="291.19" stroke="#1B9E77" stroke-width="0.8856"/>
<line x1="493.60" y1="288.34" x2="493.60" y2="291.19" stroke="#1B9E77" stroke-width="0.8856"/>
<line x1="500.20" y1="292.04" x2="500.20" y2="294.89" stroke="#1B9E77" stroke-width="0.8856"/>
<line x1="507.50" y1="296.44" x2="507.50" y2="299.29" stroke="#1B9E77" stroke-width="0.8856"/>
<line x1="528.70" y1="300.94" x2="528.70" y2="303.79" stroke="#1B9E77" stroke-width="0.8856"/>
<line x1="593.00" y1="326.94" x2="593.00" y2="329.79" stroke="#1B9E77" stroke-width="0.8856"/>
<line x1="596.90" y1="326.94" x2="596.90" y2="329.79" stroke="#1B9E77" stroke-width="0.8856"/>
<line x1="427.80" y1="238.04" x2="427.80" y2="240.89" stroke="#D95F02" stroke-width="0.8856"/>
<line x1="458.80" y1="266.94" x2="458.80" y2="269.79" stroke="#D95F02" stroke-width="0.8856"/>
<line x1="472.20" y1="273.94" x2="472.20" y2="276.79" stroke="#D95F02" stroke-width="0.8856"/>
<line x1="476.30" y1="273.94" x2="476.30" y2="276.79" stroke="#D95F02" stroke-width="0.8856"/>
<line x1="485.00" y1="283.84" x2="485.00" y2="286.69" stroke="#D95F02" stroke-width="0.8856"/>
<line x1="503.10" y1="298.74" x2="503.10" y2="301.59" stroke="#D95F02" stroke-width="0.8856"/>
<line x1="516.30" y1="298.74" x2="516.30" y2="301.59" stroke="#D95F02" stroke-width="0.8856"/>
<line x1="479.80" y1="304.00" x2="479.80" y2="306.86" stroke="#7570B3" stroke-width="0.8856"/>
<line x1="504.60" y1="310.74" x2="504.60" y2="313.59" stroke="#7570B3" stroke-width="0.8856"/>
<line x1="516.30" y1="310.74" x2="516.30" y2="313.59" stroke="#7570B3" stroke-width="0.8856"/>
<line x1="526.50" y1="310.74" x2="526.50" y2="313.59" stroke="#7570B3" stroke-width="0.8856"/>
<line x1="538.90" y1="310.74" x2="538.90" y2="313.59" stroke="#7570B3" stroke-width="0.8856"/>
<line x1="634.40" y1="334.74" x2="634.40" y2="337.59" stroke="#7570B3" stroke-width="0.8856"/>
<polygon points="118.2,452.0 159.0,452.0 168.6,458.4 247.0,458.9 247.0,454.3 342.3,454.3 342.3,529.8 247.0,529.7 240.5,501.0 185.0,504.9 168.6,505.0 162.0,496.0 155.0,485.0 133.0,472.0 124.0,458.0" fill="#1B9E77" fill-opacity="0.16" stroke="none"/>
<polygon points="118.2,452.0 212.4,452.0 212.4,513.6 162.0,513.6 162.0,486.0 133.0,486.0 126.0,470.0 122.0,456.0" fill="#D95F02" fill-opacity="0.16" stroke="none"/>
<polygon points="118.2,452.0 123.7,454.3 130.7,467.2 133.0,480.0 155.8,480.0 162.2,487.0 169.2,498.7 192.0,499.9 240.5,496.8 240.5,501.2 277.7,501.2 277.7,505.7 301.0,505.7 301.0,548.8 277.7,548.8 277.7,542.9 240.5,542.8 240.5,537.0 185.0,537.0 160.0,530.0 140.0,519.7 133.0,503.4 126.0,475.4 122.5,462.5 119.0,454.0" fill="#7570B3" fill-opacity="0.16" stroke="none"/>
<polyline points="118.2,452.1 122.5,452.6 123.1,456.7 129.5,456.7 130.7,460.8 132.4,461.4 133.0,465.8 155.2,465.8 155.8,472.4 159.3,472.4 160.5,478.9 168.6,478.9 168.6,485.1 247.0,485.1 247.0,503.5 342.3,503.5" fill="none" stroke="#1B9E77" stroke-width="1.44" stroke-linejoin="miter"/>
<polyline points="118.2,452.1 132.4,452.1 133.0,465.4 161.6,465.4 162.8,483.8 212.4,484.1 212.4,558.1" fill="none" stroke="#D95F02" stroke-width="1.44" stroke-linejoin="miter"/>
<polyline points="118.2,452.1 121.9,452.2 121.9,458.1 124.8,458.1 126.0,465.4 128.4,466.0 129.5,470.7 131.3,473.0 131.3,481.2 133.0,487.0 135.4,491.7 137.7,496.4 140.0,504.0 155.2,504.0 156.4,508.6 162.8,508.6 163.4,512.7 169.8,513.3 170.4,521.8 240.5,521.8 240.5,529.0 277.6,529.0 277.6,536.1 301.4,536.1" fill="none" stroke="#7570B3" stroke-width="1.44" stroke-linejoin="miter"/>
<path d="M106.40,446.30 V563.50 H363.00" fill="none" stroke="#333333" stroke-width="1.09"/>
<line x1="104.42" y1="558.10" x2="106.40" y2="558.10" stroke="#333333" stroke-width="1.0912000000000002"/>
<text x="104.42" y="560.38" font-size="6.448" text-anchor="end" fill="#4d4d4d" font-weight="normal" >0</text>
<line x1="104.42" y1="531.62" x2="106.40" y2="531.62" stroke="#333333" stroke-width="1.0912000000000002"/>
<text x="104.42" y="533.91" font-size="6.448" text-anchor="end" fill="#4d4d4d" font-weight="normal" >25</text>
<line x1="104.42" y1="505.15" x2="106.40" y2="505.15" stroke="#333333" stroke-width="1.0912000000000002"/>
<text x="104.42" y="507.43" font-size="6.448" text-anchor="end" fill="#4d4d4d" font-weight="normal" >50</text>
<line x1="104.42" y1="478.68" x2="106.40" y2="478.68" stroke="#333333" stroke-width="1.0912000000000002"/>
<text x="104.42" y="480.96" font-size="6.448" text-anchor="end" fill="#4d4d4d" font-weight="normal" >75</text>
<line x1="104.42" y1="452.20" x2="106.40" y2="452.20" stroke="#333333" stroke-width="1.0912000000000002"/>
<text x="104.42" y="454.48" font-size="6.448" text-anchor="end" fill="#4d4d4d" font-weight="normal" >100</text>
<line x1="118.20" y1="563.50" x2="118.20" y2="565.48" stroke="#333333" stroke-width="1.0912000000000002"/>
<text x="118.20" y="570.84" font-size="6.547199999999999" text-anchor="middle" fill="#4d4d4d" font-weight="normal" >0</text>
<line x1="164.88" y1="563.50" x2="164.88" y2="565.48" stroke="#333333" stroke-width="1.0912000000000002"/>
<text x="164.88" y="570.84" font-size="6.547199999999999" text-anchor="middle" fill="#4d4d4d" font-weight="normal" >50</text>
<line x1="211.56" y1="563.50" x2="211.56" y2="565.48" stroke="#333333" stroke-width="1.0912000000000002"/>
<text x="211.56" y="570.84" font-size="6.547199999999999" text-anchor="middle" fill="#4d4d4d" font-weight="normal" >100</text>
<line x1="258.24" y1="563.50" x2="258.24" y2="565.48" stroke="#333333" stroke-width="1.0912000000000002"/>
<text x="258.24" y="570.84" font-size="6.547199999999999" text-anchor="middle" fill="#4d4d4d" font-weight="normal" >150</text>
<line x1="304.92" y1="563.50" x2="304.92" y2="565.48" stroke="#333333" stroke-width="1.0912000000000002"/>
<text x="304.92" y="570.84" font-size="6.547199999999999" text-anchor="middle" fill="#4d4d4d" font-weight="normal" >200</text>
<line x1="351.60" y1="563.50" x2="351.60" y2="565.48" stroke="#333333" stroke-width="1.0912000000000002"/>
<text x="351.60" y="570.84" font-size="6.547199999999999" text-anchor="middle" fill="#4d4d4d" font-weight="normal" >250</text>
<text x="234.50" y="578.38" font-size="7.2416" text-anchor="middle" fill="#000" font-weight="normal" >Time</text>
<text x="0" y="0" font-size="7.04" text-anchor="middle" fill="#222" transform="translate(91.18,504.90) rotate(-90)">Survival probability (%)</text>
<text x="123.10" y="560.40" font-size="6.8448" text-anchor="start" fill="#222" font-weight="normal" >p = 0.038</text>
<path d="M136.60,595.60 V616.60 H362.80" fill="none" stroke="#333333" stroke-width="1.09"/>
<text x="136.60" y="591.10" font-size="7.95" text-anchor="start" fill="#111" font-weight="normal" >Number at risk</text>
<line x1="134.62" y1="599.50" x2="136.60" y2="599.50" stroke="#333333" stroke-width="1.0912000000000002"/>
<text x="133.62" y="601.48" font-size="5.8" text-anchor="end" fill="#1B9E77" font-weight="normal" >Truncating=0</text>
<text x="146.90" y="601.88" font-size="6.7456" text-anchor="middle" fill="#222" font-weight="normal" >23</text>
<text x="187.96" y="601.88" font-size="6.7456" text-anchor="middle" fill="#222" font-weight="normal" >12</text>
<text x="229.02" y="601.88" font-size="6.7456" text-anchor="middle" fill="#222" font-weight="normal" >5</text>
<text x="270.08" y="601.88" font-size="6.7456" text-anchor="middle" fill="#222" font-weight="normal" >2</text>
<text x="311.14" y="601.88" font-size="6.7456" text-anchor="middle" fill="#222" font-weight="normal" >1</text>
<text x="352.20" y="601.88" font-size="6.7456" text-anchor="middle" fill="#222" font-weight="normal" >0</text>
<line x1="134.62" y1="605.50" x2="136.60" y2="605.50" stroke="#333333" stroke-width="1.0912000000000002"/>
<text x="133.62" y="607.48" font-size="5.8" text-anchor="end" fill="#D95F02" font-weight="normal" >Truncating=1</text>
<text x="146.90" y="607.88" font-size="6.7456" text-anchor="middle" fill="#222" font-weight="normal" >9</text>
<text x="187.96" y="607.88" font-size="6.7456" text-anchor="middle" fill="#222" font-weight="normal" >4</text>
<text x="229.02" y="607.88" font-size="6.7456" text-anchor="middle" fill="#222" font-weight="normal" >1</text>
<text x="270.08" y="607.88" font-size="6.7456" text-anchor="middle" fill="#222" font-weight="normal" >0</text>
<text x="311.14" y="607.88" font-size="6.7456" text-anchor="middle" fill="#222" font-weight="normal" >0</text>
<text x="352.20" y="607.88" font-size="6.7456" text-anchor="middle" fill="#222" font-weight="normal" >0</text>
<line x1="134.62" y1="612.20" x2="136.60" y2="612.20" stroke="#333333" stroke-width="1.0912000000000002"/>
<text x="133.62" y="614.18" font-size="5.8" text-anchor="end" fill="#7570B3" font-weight="normal" textLength="26.0" lengthAdjust="spacingAndGlyphs" >DDX41 WT</text>
<text x="146.90" y="614.58" font-size="6.7456" text-anchor="middle" fill="#222" font-weight="normal" >32</text>
<text x="187.96" y="614.58" font-size="6.7456" text-anchor="middle" fill="#222" font-weight="normal" >10</text>
<text x="229.02" y="614.58" font-size="6.7456" text-anchor="middle" fill="#222" font-weight="normal" >7</text>
<text x="270.08" y="614.58" font-size="6.7456" text-anchor="middle" fill="#222" font-weight="normal" >4</text>
<text x="311.14" y="614.58" font-size="6.7456" text-anchor="middle" fill="#222" font-weight="normal" >0</text>
<text x="352.20" y="614.58" font-size="6.7456" text-anchor="middle" fill="#222" font-weight="normal" >0</text>
<line x1="146.90" y1="616.60" x2="146.90" y2="618.58" stroke="#333333" stroke-width="1.0912000000000002"/>
<text x="146.90" y="624.04" font-size="6.1504" text-anchor="middle" fill="#4d4d4d" font-weight="normal" >0</text>
<line x1="187.96" y1="616.60" x2="187.96" y2="618.58" stroke="#333333" stroke-width="1.0912000000000002"/>
<text x="187.96" y="624.04" font-size="6.1504" text-anchor="middle" fill="#4d4d4d" font-weight="normal" >50</text>
<line x1="229.02" y1="616.60" x2="229.02" y2="618.58" stroke="#333333" stroke-width="1.0912000000000002"/>
<text x="229.02" y="624.04" font-size="6.1504" text-anchor="middle" fill="#4d4d4d" font-weight="normal" >100</text>
<line x1="270.08" y1="616.60" x2="270.08" y2="618.58" stroke="#333333" stroke-width="1.0912000000000002"/>
<text x="270.08" y="624.04" font-size="6.1504" text-anchor="middle" fill="#4d4d4d" font-weight="normal" >150</text>
<line x1="311.14" y1="616.60" x2="311.14" y2="618.58" stroke="#333333" stroke-width="1.0912000000000002"/>
<text x="311.14" y="624.04" font-size="6.1504" text-anchor="middle" fill="#4d4d4d" font-weight="normal" >200</text>
<line x1="352.20" y1="616.60" x2="352.20" y2="618.58" stroke="#333333" stroke-width="1.0912000000000002"/>
<text x="352.20" y="624.04" font-size="6.1504" text-anchor="middle" fill="#4d4d4d" font-weight="normal" >250</text>
<text x="249.30" y="630.69" font-size="6.8448" text-anchor="middle" fill="#000" font-weight="normal" >Time</text>
<text x="0" y="0" font-size="6.75" text-anchor="middle" fill="#222" transform="translate(91.38,606.10) rotate(-90)">Strata</text>
<line x1="134.80" y1="463.52" x2="134.80" y2="466.40" stroke="#1B9E77" stroke-width="0.8928"/>
<line x1="137.10" y1="463.52" x2="137.10" y2="466.40" stroke="#1B9E77" stroke-width="0.8928"/>
<line x1="140.00" y1="463.52" x2="140.00" y2="466.40" stroke="#1B9E77" stroke-width="0.8928"/>
<line x1="151.70" y1="463.52" x2="151.70" y2="466.40" stroke="#1B9E77" stroke-width="0.8928"/>
<line x1="153.50" y1="463.52" x2="153.50" y2="466.40" stroke="#1B9E77" stroke-width="0.8928"/>
<line x1="169.20" y1="482.82" x2="169.20" y2="485.70" stroke="#1B9E77" stroke-width="0.8928"/>
<line x1="176.20" y1="482.82" x2="176.20" y2="485.70" stroke="#1B9E77" stroke-width="0.8928"/>
<line x1="179.70" y1="482.82" x2="179.70" y2="485.70" stroke="#1B9E77" stroke-width="0.8928"/>
<line x1="224.10" y1="482.82" x2="224.10" y2="485.70" stroke="#1B9E77" stroke-width="0.8928"/>
<line x1="255.10" y1="501.22" x2="255.10" y2="504.10" stroke="#1B9E77" stroke-width="0.8928"/>
<line x1="268.20" y1="501.22" x2="268.20" y2="504.10" stroke="#1B9E77" stroke-width="0.8928"/>
<line x1="342.30" y1="501.22" x2="342.30" y2="504.10" stroke="#1B9E77" stroke-width="0.8928"/>
<line x1="155.20" y1="463.12" x2="155.20" y2="466.00" stroke="#D95F02" stroke-width="0.8928"/>
<line x1="159.30" y1="463.12" x2="159.30" y2="466.00" stroke="#D95F02" stroke-width="0.8928"/>
<line x1="173.90" y1="481.59" x2="173.90" y2="484.46" stroke="#D95F02" stroke-width="0.8928"/>
<line x1="193.00" y1="481.70" x2="193.00" y2="484.58" stroke="#D95F02" stroke-width="0.8928"/>
<line x1="145.90" y1="501.72" x2="145.90" y2="504.60" stroke="#7570B3" stroke-width="0.8928"/>
<line x1="149.40" y1="501.72" x2="149.40" y2="504.60" stroke="#7570B3" stroke-width="0.8928"/>
<line x1="205.40" y1="519.52" x2="205.40" y2="522.40" stroke="#7570B3" stroke-width="0.8928"/>
<line x1="212.00" y1="519.52" x2="212.00" y2="522.40" stroke="#7570B3" stroke-width="0.8928"/>
<line x1="235.40" y1="519.52" x2="235.40" y2="522.40" stroke="#7570B3" stroke-width="0.8928"/>
<line x1="290.40" y1="533.82" x2="290.40" y2="536.70" stroke="#7570B3" stroke-width="0.8928"/>
<line x1="301.40" y1="533.82" x2="301.40" y2="536.70" stroke="#7570B3" stroke-width="0.8928"/>
<polygon points="416.4,449.5 468.4,449.5 468.4,452.0 515.0,452.0 515.0,450.0 649.7,449.6 649.7,542.8 572.6,542.8 572.6,522.0 516.0,522.0 516.0,496.0 457.0,496.0 455.0,486.0 431.0,480.4 428.0,470.0 421.0,455.0" fill="#1B9E77" fill-opacity="0.16" stroke="none"/>
<polygon points="416.4,449.5 572.6,449.8 572.6,522.6 455.0,522.6 455.0,477.4 431.0,477.4 431.0,452.0 421.0,451.0" fill="#D95F02" fill-opacity="0.16" stroke="none"/>
<polygon points="416.4,449.5 421.7,452.3 428.7,466.4 431.0,476.9 457.0,477.0 516.0,477.0 516.0,496.0 572.6,496.0 572.6,505.0 607.1,505.0 607.1,550.0 582.2,550.0 582.2,542.8 551.5,544.5 543.0,540.0 470.0,538.0 457.0,525.0 437.6,516.0 428.8,496.4 425.2,475.7 420.5,460.5" fill="#7570B3" fill-opacity="0.16" stroke="none"/>
<polyline points="416.4,449.6 421.1,450.0 421.7,454.7 428.7,454.7 429.3,459.4 431.0,459.9 431.6,465.2 456.7,465.2 459.0,471.6 467.8,471.6 469.0,480.1 514.9,480.1 514.9,496.3 550.7,496.3 550.7,517.3 649.7,517.3" fill="none" stroke="#1B9E77" stroke-width="1.49" stroke-linejoin="miter"/>
<polyline points="416.4,449.6 431.0,449.6 431.6,459.4 455.0,459.4 455.5,476.3 462.0,476.3 462.6,492.8 572.6,492.8" fill="none" stroke="#D95F02" stroke-width="1.49" stroke-linejoin="miter"/>
<polyline points="416.4,449.6 419.9,449.6 420.5,456.1 424.0,456.4 424.6,463.4 426.9,464.0 428.1,468.1 429.9,471.0 430.4,481.0 432.2,486.2 435.1,492.1 437.4,496.7 438.6,503.5 455.5,503.5 456.1,507.8 462.6,508.4 463.1,513.1 470.1,513.1 470.7,517.7 471.3,522.6 543.4,522.6 543.4,529.5 582.2,529.5 582.2,536.8 607.1,536.8" fill="none" stroke="#7570B3" stroke-width="1.49" stroke-linejoin="miter"/>
<path d="M404.50,444.10 V565.40 H671.50" fill="none" stroke="#333333" stroke-width="1.13"/>
<line x1="402.44" y1="559.70" x2="404.50" y2="559.70" stroke="#333333" stroke-width="1.1341"/>
<text x="402.44" y="562.07" font-size="6.701499999999999" text-anchor="end" fill="#4d4d4d" font-weight="normal" >0</text>
<line x1="402.44" y1="532.18" x2="404.50" y2="532.18" stroke="#333333" stroke-width="1.1341"/>
<text x="402.44" y="534.55" font-size="6.701499999999999" text-anchor="end" fill="#4d4d4d" font-weight="normal" >25</text>
<line x1="402.44" y1="504.65" x2="404.50" y2="504.65" stroke="#333333" stroke-width="1.1341"/>
<text x="402.44" y="507.02" font-size="6.701499999999999" text-anchor="end" fill="#4d4d4d" font-weight="normal" >50</text>
<line x1="402.44" y1="477.13" x2="404.50" y2="477.13" stroke="#333333" stroke-width="1.1341"/>
<text x="402.44" y="479.50" font-size="6.701499999999999" text-anchor="end" fill="#4d4d4d" font-weight="normal" >75</text>
<line x1="402.44" y1="449.60" x2="404.50" y2="449.60" stroke="#333333" stroke-width="1.1341"/>
<text x="402.44" y="451.97" font-size="6.701499999999999" text-anchor="end" fill="#4d4d4d" font-weight="normal" >100</text>
<line x1="416.40" y1="565.40" x2="416.40" y2="567.46" stroke="#333333" stroke-width="1.1341"/>
<text x="416.40" y="573.03" font-size="6.804599999999999" text-anchor="middle" fill="#4d4d4d" font-weight="normal" >0</text>
<line x1="465.00" y1="565.40" x2="465.00" y2="567.46" stroke="#333333" stroke-width="1.1341"/>
<text x="465.00" y="573.03" font-size="6.804599999999999" text-anchor="middle" fill="#4d4d4d" font-weight="normal" >50</text>
<line x1="513.60" y1="565.40" x2="513.60" y2="567.46" stroke="#333333" stroke-width="1.1341"/>
<text x="513.60" y="573.03" font-size="6.804599999999999" text-anchor="middle" fill="#4d4d4d" font-weight="normal" >100</text>
<line x1="562.20" y1="565.40" x2="562.20" y2="567.46" stroke="#333333" stroke-width="1.1341"/>
<text x="562.20" y="573.03" font-size="6.804599999999999" text-anchor="middle" fill="#4d4d4d" font-weight="normal" >150</text>
<line x1="610.80" y1="565.40" x2="610.80" y2="567.46" stroke="#333333" stroke-width="1.1341"/>
<text x="610.80" y="573.03" font-size="6.804599999999999" text-anchor="middle" fill="#4d4d4d" font-weight="normal" >200</text>
<line x1="659.40" y1="565.40" x2="659.40" y2="567.46" stroke="#333333" stroke-width="1.1341"/>
<text x="659.40" y="573.03" font-size="6.804599999999999" text-anchor="middle" fill="#4d4d4d" font-weight="normal" >250</text>
<text x="537.80" y="580.87" font-size="7.526299999999999" text-anchor="middle" fill="#000" font-weight="normal" >Time</text>
<text x="0" y="0" font-size="7.32" text-anchor="middle" fill="#222" transform="translate(390.27,504.75) rotate(-90)">Survival probability (%)</text>
<text x="421.20" y="562.30" font-size="7.1139" text-anchor="start" fill="#222" font-weight="normal" >p = 0.038</text>
<path d="M421.40,598.60 V620.20 H671.10" fill="none" stroke="#333333" stroke-width="1.13"/>
<text x="421.40" y="593.90" font-size="8.2" text-anchor="start" fill="#111" font-weight="normal" >Number at risk</text>
<line x1="419.34" y1="602.70" x2="421.40" y2="602.70" stroke="#333333" stroke-width="1.1341"/>
<text x="418.31" y="604.76" font-size="6.06" text-anchor="end" fill="#1B9E77" font-weight="normal" >R525=0</text>
<text x="433.00" y="605.17" font-size="7.010799999999999" text-anchor="middle" fill="#222" font-weight="normal" >21</text>
<text x="478.30" y="605.17" font-size="7.010799999999999" text-anchor="middle" fill="#222" font-weight="normal" >12</text>
<text x="523.60" y="605.17" font-size="7.010799999999999" text-anchor="middle" fill="#222" font-weight="normal" >5</text>
<text x="568.90" y="605.17" font-size="7.010799999999999" text-anchor="middle" fill="#222" font-weight="normal" >1</text>
<text x="614.20" y="605.17" font-size="7.010799999999999" text-anchor="middle" fill="#222" font-weight="normal" >1</text>
<text x="659.50" y="605.17" font-size="7.010799999999999" text-anchor="middle" fill="#222" font-weight="normal" >0</text>
<line x1="419.34" y1="609.50" x2="421.40" y2="609.50" stroke="#333333" stroke-width="1.1341"/>
<text x="418.31" y="611.56" font-size="6.06" text-anchor="end" fill="#D95F02" font-weight="normal" >R525=1</text>
<text x="433.00" y="611.97" font-size="7.010799999999999" text-anchor="middle" fill="#222" font-weight="normal" >11</text>
<text x="478.30" y="611.97" font-size="7.010799999999999" text-anchor="middle" fill="#222" font-weight="normal" >4</text>
<text x="523.60" y="611.97" font-size="7.010799999999999" text-anchor="middle" fill="#222" font-weight="normal" >1</text>
<text x="568.90" y="611.97" font-size="7.010799999999999" text-anchor="middle" fill="#222" font-weight="normal" >1</text>
<text x="614.20" y="611.97" font-size="7.010799999999999" text-anchor="middle" fill="#222" font-weight="normal" >0</text>
<text x="659.50" y="611.97" font-size="7.010799999999999" text-anchor="middle" fill="#222" font-weight="normal" >0</text>
<line x1="419.34" y1="616.10" x2="421.40" y2="616.10" stroke="#333333" stroke-width="1.1341"/>
<text x="418.31" y="618.16" font-size="6.06" text-anchor="end" fill="#7570B3" font-weight="normal" textLength="26.4" lengthAdjust="spacingAndGlyphs" >DDX41 WT</text>
<text x="433.00" y="618.57" font-size="7.010799999999999" text-anchor="middle" fill="#222" font-weight="normal" >32</text>
<text x="478.30" y="618.57" font-size="7.010799999999999" text-anchor="middle" fill="#222" font-weight="normal" >10</text>
<text x="523.60" y="618.57" font-size="7.010799999999999" text-anchor="middle" fill="#222" font-weight="normal" >7</text>
<text x="568.90" y="618.57" font-size="7.010799999999999" text-anchor="middle" fill="#222" font-weight="normal" >4</text>
<text x="614.20" y="618.57" font-size="7.010799999999999" text-anchor="middle" fill="#222" font-weight="normal" >0</text>
<text x="659.50" y="618.57" font-size="7.010799999999999" text-anchor="middle" fill="#222" font-weight="normal" >0</text>
<line x1="433.00" y1="620.20" x2="433.00" y2="622.26" stroke="#333333" stroke-width="1.1341"/>
<text x="433.00" y="627.93" font-size="6.3922" text-anchor="middle" fill="#4d4d4d" font-weight="normal" >0</text>
<line x1="478.30" y1="620.20" x2="478.30" y2="622.26" stroke="#333333" stroke-width="1.1341"/>
<text x="478.30" y="627.93" font-size="6.3922" text-anchor="middle" fill="#4d4d4d" font-weight="normal" >50</text>
<line x1="523.60" y1="620.20" x2="523.60" y2="622.26" stroke="#333333" stroke-width="1.1341"/>
<text x="523.60" y="627.93" font-size="6.3922" text-anchor="middle" fill="#4d4d4d" font-weight="normal" >100</text>
<line x1="568.90" y1="620.20" x2="568.90" y2="622.26" stroke="#333333" stroke-width="1.1341"/>
<text x="568.90" y="627.93" font-size="6.3922" text-anchor="middle" fill="#4d4d4d" font-weight="normal" >150</text>
<line x1="614.20" y1="620.20" x2="614.20" y2="622.26" stroke="#333333" stroke-width="1.1341"/>
<text x="614.20" y="627.93" font-size="6.3922" text-anchor="middle" fill="#4d4d4d" font-weight="normal" >200</text>
<line x1="659.50" y1="620.20" x2="659.50" y2="622.26" stroke="#333333" stroke-width="1.1341"/>
<text x="659.50" y="627.93" font-size="6.3922" text-anchor="middle" fill="#4d4d4d" font-weight="normal" >250</text>
<text x="546.10" y="634.84" font-size="7.1139" text-anchor="middle" fill="#000" font-weight="normal" >Time</text>
<text x="0" y="0" font-size="7.01" text-anchor="middle" fill="#222" transform="translate(388.17,609.70) rotate(-90)">Strata</text>
<line x1="436.90" y1="462.83" x2="436.90" y2="465.82" stroke="#1B9E77" stroke-width="0.9279"/>
<line x1="467.80" y1="469.23" x2="467.80" y2="472.22" stroke="#1B9E77" stroke-width="0.9279"/>
<line x1="471.90" y1="477.73" x2="471.90" y2="480.72" stroke="#1B9E77" stroke-width="0.9279"/>
<line x1="474.80" y1="477.73" x2="474.80" y2="480.72" stroke="#1B9E77" stroke-width="0.9279"/>
<line x1="486.50" y1="477.73" x2="486.50" y2="480.72" stroke="#1B9E77" stroke-width="0.9279"/>
<line x1="494.50" y1="477.73" x2="494.50" y2="480.72" stroke="#1B9E77" stroke-width="0.9279"/>
<line x1="526.60" y1="493.93" x2="526.60" y2="496.92" stroke="#1B9E77" stroke-width="0.9279"/>
<line x1="559.50" y1="514.93" x2="559.50" y2="517.92" stroke="#1B9E77" stroke-width="0.9279"/>
<line x1="649.70" y1="514.93" x2="649.70" y2="517.92" stroke="#1B9E77" stroke-width="0.9279"/>
<line x1="438.60" y1="457.03" x2="438.60" y2="460.02" stroke="#D95F02" stroke-width="0.9279"/>
<line x1="450.90" y1="457.03" x2="450.90" y2="460.02" stroke="#D95F02" stroke-width="0.9279"/>
<line x1="453.20" y1="457.03" x2="453.20" y2="460.02" stroke="#D95F02" stroke-width="0.9279"/>
<line x1="470.70" y1="490.43" x2="470.70" y2="493.42" stroke="#D95F02" stroke-width="0.9279"/>
<line x1="476.00" y1="490.43" x2="476.00" y2="493.42" stroke="#D95F02" stroke-width="0.9279"/>
<line x1="478.90" y1="490.43" x2="478.90" y2="493.42" stroke="#D95F02" stroke-width="0.9279"/>
<line x1="572.60" y1="490.43" x2="572.60" y2="493.42" stroke="#D95F02" stroke-width="0.9279"/>
<line x1="444.50" y1="501.13" x2="444.50" y2="504.12" stroke="#7570B3" stroke-width="0.9279"/>
<line x1="448.50" y1="501.13" x2="448.50" y2="504.12" stroke="#7570B3" stroke-width="0.9279"/>
<line x1="506.90" y1="520.23" x2="506.90" y2="523.22" stroke="#7570B3" stroke-width="0.9279"/>
<line x1="513.50" y1="520.23" x2="513.50" y2="523.22" stroke="#7570B3" stroke-width="0.9279"/>
<line x1="539.00" y1="520.23" x2="539.00" y2="523.22" stroke="#7570B3" stroke-width="0.9279"/>
<line x1="595.90" y1="534.43" x2="595.90" y2="537.42" stroke="#7570B3" stroke-width="0.9279"/>
<line x1="607.10" y1="534.43" x2="607.10" y2="537.42" stroke="#7570B3" stroke-width="0.9279"/>
<polygon points="118.4,657.6 135.4,657.6 159.0,657.6 159.0,674.5 192.0,674.5 285.0,674.1 317.3,674.2 365.5,674.2 365.5,735.5 218.6,734.7 218.6,718.6 185.0,718.6 162.2,717.7 159.0,717.0 157.0,690.0 156.0,671.0 140.0,669.0 135.4,669.0" fill="#1B9E77" fill-opacity="0.16" stroke="none"/>
<polygon points="118.4,657.6 185.0,658.0 188.6,659.5 233.9,659.5 233.9,658.8 255.0,658.8 256.5,663.9 256.5,669.8 317.3,669.8 317.3,755.8 256.5,755.8 256.5,734.7 234.0,734.7 234.0,706.4 188.5,706.4 188.5,694.0 159.0,694.0 159.0,676.6 141.0,676.6 135.0,668.0 125.0,662.0" fill="#D95F02" fill-opacity="0.16" stroke="none"/>
<polygon points="118.4,657.6 129.5,660.5 135.4,669.9 140.0,673.4 150.5,683.9 161.0,694.4 185.0,697.4 188.6,702.6 233.9,702.6 240.0,706.2 333.8,707.0 333.8,743.4 255.0,743.4 238.0,743.4 238.0,736.1 194.5,736.1 194.5,729.6 185.0,729.6 170.4,730.0 165.7,724.7 158.7,717.7 149.4,708.4 143.5,700.2 138.9,688.5 131.9,679.2 123.7,667.5 119.0,659.3" fill="#7570B3" fill-opacity="0.16" stroke="none"/>
<polyline points="118.4,657.6 135.4,657.6 135.4,661.7 151.7,661.7 152.3,665.8 156.4,666.4 157.0,668.7 158.1,676.3 159.3,683.9 161.0,689.7 162.2,699.6 218.6,699.6 218.6,713.0 365.5,713.0 365.5,766.4" fill="none" stroke="#1B9E77" stroke-width="1.48" stroke-linejoin="miter"/>
<polyline points="118.4,657.6 141.2,657.6 141.8,661.7 150.5,661.7 151.1,666.4 159.3,666.4 160.5,671.6 161.6,677.5 188.6,677.5 189.4,686.5 233.9,686.5 234.6,702.3 254.8,702.3 255.1,717.9 256.5,718.6 256.8,734.2 317.3,734.2" fill="none" stroke="#D95F02" stroke-width="1.48" stroke-linejoin="miter"/>
<polyline points="118.4,657.6 121.3,659.9 124.8,664.0 130.1,664.0 131.3,668.1 133.0,675.1 135.9,679.2 137.1,683.3 140.0,685.0 143.5,688.0 144.7,694.4 147.0,695.5 149.4,700.2 154.6,701.4 155.8,703.7 160.5,703.7 162.2,706.1 165.7,709.6 171.6,714.2 183.8,714.2 184.4,717.2 193.8,717.2 194.5,720.0 195.2,723.3 237.6,723.3 238.3,729.0 334.1,729.0" fill="none" stroke="#7570B3" stroke-width="1.48" stroke-linejoin="miter"/>
<path d="M106.30,652.20 V772.10 H369.90" fill="none" stroke="#333333" stroke-width="1.12"/>
<line x1="104.26" y1="766.60" x2="106.30" y2="766.60" stroke="#333333" stroke-width="1.1242"/>
<text x="104.26" y="768.95" font-size="6.643" text-anchor="end" fill="#4d4d4d" font-weight="normal" >0</text>
<line x1="104.26" y1="739.33" x2="106.30" y2="739.33" stroke="#333333" stroke-width="1.1242"/>
<text x="104.26" y="741.68" font-size="6.643" text-anchor="end" fill="#4d4d4d" font-weight="normal" >25</text>
<line x1="104.26" y1="712.05" x2="106.30" y2="712.05" stroke="#333333" stroke-width="1.1242"/>
<text x="104.26" y="714.40" font-size="6.643" text-anchor="end" fill="#4d4d4d" font-weight="normal" >50</text>
<line x1="104.26" y1="684.77" x2="106.30" y2="684.77" stroke="#333333" stroke-width="1.1242"/>
<text x="104.26" y="687.13" font-size="6.643" text-anchor="end" fill="#4d4d4d" font-weight="normal" >75</text>
<line x1="104.26" y1="657.50" x2="106.30" y2="657.50" stroke="#333333" stroke-width="1.1242"/>
<text x="104.26" y="659.85" font-size="6.643" text-anchor="end" fill="#4d4d4d" font-weight="normal" >100</text>
<line x1="118.40" y1="772.10" x2="118.40" y2="774.14" stroke="#333333" stroke-width="1.1242"/>
<text x="118.40" y="779.66" font-size="6.7452" text-anchor="middle" fill="#4d4d4d" font-weight="normal" >0</text>
<line x1="178.25" y1="772.10" x2="178.25" y2="774.14" stroke="#333333" stroke-width="1.1242"/>
<text x="178.25" y="779.66" font-size="6.7452" text-anchor="middle" fill="#4d4d4d" font-weight="normal" >30</text>
<line x1="238.10" y1="772.10" x2="238.10" y2="774.14" stroke="#333333" stroke-width="1.1242"/>
<text x="238.10" y="779.66" font-size="6.7452" text-anchor="middle" fill="#4d4d4d" font-weight="normal" >60</text>
<line x1="297.95" y1="772.10" x2="297.95" y2="774.14" stroke="#333333" stroke-width="1.1242"/>
<text x="297.95" y="779.66" font-size="6.7452" text-anchor="middle" fill="#4d4d4d" font-weight="normal" >90</text>
<line x1="357.80" y1="772.10" x2="357.80" y2="774.14" stroke="#333333" stroke-width="1.1242"/>
<text x="357.80" y="779.66" font-size="6.7452" text-anchor="middle" fill="#4d4d4d" font-weight="normal" >120</text>
<text x="235.40" y="787.43" font-size="7.4606" text-anchor="middle" fill="#000" font-weight="normal" >Time</text>
<text x="0" y="0" font-size="7.26" text-anchor="middle" fill="#222" transform="translate(91.05,712.15) rotate(-90)">Survival probability (%)</text>
<text x="123.50" y="768.80" font-size="7.0518" text-anchor="start" fill="#222" font-weight="normal" >p = 0.051</text>
<path d="M158.80,805.10 V826.30 H369.80" fill="none" stroke="#333333" stroke-width="1.12"/>
<text x="158.80" y="800.60" font-size="7.88" text-anchor="start" fill="#111" font-weight="normal" >Number at risk</text>
<line x1="156.76" y1="808.90" x2="158.80" y2="808.90" stroke="#333333" stroke-width="1.1242"/>
<text x="155.73" y="810.94" font-size="5.89" text-anchor="end" fill="#1B9E77" font-weight="normal" >Truncating=0</text>
<text x="168.50" y="811.35" font-size="6.9496" text-anchor="middle" fill="#222" font-weight="normal" >26</text>
<text x="216.25" y="811.35" font-size="6.9496" text-anchor="middle" fill="#222" font-weight="normal" >11</text>
<text x="264.00" y="811.35" font-size="6.9496" text-anchor="middle" fill="#222" font-weight="normal" >3</text>
<text x="311.75" y="811.35" font-size="6.9496" text-anchor="middle" fill="#222" font-weight="normal" >1</text>
<text x="359.50" y="811.35" font-size="6.9496" text-anchor="middle" fill="#222" font-weight="normal" >1</text>
<line x1="156.76" y1="815.30" x2="158.80" y2="815.30" stroke="#333333" stroke-width="1.1242"/>
<text x="155.73" y="817.34" font-size="5.89" text-anchor="end" fill="#D95F02" font-weight="normal" >Truncating=1</text>
<text x="168.50" y="817.75" font-size="6.9496" text-anchor="middle" fill="#222" font-weight="normal" >25</text>
<text x="216.25" y="817.75" font-size="6.9496" text-anchor="middle" fill="#222" font-weight="normal" >12</text>
<text x="264.00" y="817.75" font-size="6.9496" text-anchor="middle" fill="#222" font-weight="normal" >4</text>
<text x="311.75" y="817.75" font-size="6.9496" text-anchor="middle" fill="#222" font-weight="normal" >1</text>
<text x="359.50" y="817.75" font-size="6.9496" text-anchor="middle" fill="#222" font-weight="normal" >0</text>
<line x1="156.76" y1="822.30" x2="158.80" y2="822.30" stroke="#333333" stroke-width="1.1242"/>
<text x="155.73" y="824.34" font-size="5.89" text-anchor="end" fill="#7570B3" font-weight="normal" >DDX41 WT</text>
<text x="168.50" y="824.75" font-size="6.9496" text-anchor="middle" fill="#222" font-weight="normal" >51</text>
<text x="216.25" y="824.75" font-size="6.9496" text-anchor="middle" fill="#222" font-weight="normal" >19</text>
<text x="264.00" y="824.75" font-size="6.9496" text-anchor="middle" fill="#222" font-weight="normal" >6</text>
<text x="311.75" y="824.75" font-size="6.9496" text-anchor="middle" fill="#222" font-weight="normal" >3</text>
<text x="359.50" y="824.75" font-size="6.9496" text-anchor="middle" fill="#222" font-weight="normal" >0</text>
<line x1="168.50" y1="826.30" x2="168.50" y2="828.34" stroke="#333333" stroke-width="1.1242"/>
<text x="168.50" y="833.96" font-size="6.3364" text-anchor="middle" fill="#4d4d4d" font-weight="normal" >0</text>
<line x1="216.25" y1="826.30" x2="216.25" y2="828.34" stroke="#333333" stroke-width="1.1242"/>
<text x="216.25" y="833.96" font-size="6.3364" text-anchor="middle" fill="#4d4d4d" font-weight="normal" >30</text>
<line x1="264.00" y1="826.30" x2="264.00" y2="828.34" stroke="#333333" stroke-width="1.1242"/>
<text x="264.00" y="833.96" font-size="6.3364" text-anchor="middle" fill="#4d4d4d" font-weight="normal" >60</text>
<line x1="311.75" y1="826.30" x2="311.75" y2="828.34" stroke="#333333" stroke-width="1.1242"/>
<text x="311.75" y="833.96" font-size="6.3364" text-anchor="middle" fill="#4d4d4d" font-weight="normal" >90</text>
<line x1="359.50" y1="826.30" x2="359.50" y2="828.34" stroke="#333333" stroke-width="1.1242"/>
<text x="359.50" y="833.96" font-size="6.3364" text-anchor="middle" fill="#4d4d4d" font-weight="normal" >120</text>
<text x="264.20" y="840.81" font-size="7.0518" text-anchor="middle" fill="#000" font-weight="normal" >Time</text>
<text x="0" y="0" font-size="6.95" text-anchor="middle" fill="#222" transform="translate(90.35,815.80) rotate(-90)">Strata</text>
<line x1="143.50" y1="659.35" x2="143.50" y2="662.31" stroke="#1B9E77" stroke-width="0.9198000000000001"/>
<line x1="170.40" y1="697.25" x2="170.40" y2="700.21" stroke="#1B9E77" stroke-width="0.9198000000000001"/>
<line x1="178.60" y1="697.25" x2="178.60" y2="700.21" stroke="#1B9E77" stroke-width="0.9198000000000001"/>
<line x1="187.30" y1="697.25" x2="187.30" y2="700.21" stroke="#1B9E77" stroke-width="0.9198000000000001"/>
<line x1="193.80" y1="697.25" x2="193.80" y2="700.21" stroke="#1B9E77" stroke-width="0.9198000000000001"/>
<line x1="196.70" y1="697.25" x2="196.70" y2="700.21" stroke="#1B9E77" stroke-width="0.9198000000000001"/>
<line x1="209.50" y1="697.25" x2="209.50" y2="700.21" stroke="#1B9E77" stroke-width="0.9198000000000001"/>
<line x1="231.70" y1="710.65" x2="231.70" y2="713.61" stroke="#1B9E77" stroke-width="0.9198000000000001"/>
<line x1="243.40" y1="710.65" x2="243.40" y2="713.61" stroke="#1B9E77" stroke-width="0.9198000000000001"/>
<line x1="260.90" y1="710.65" x2="260.90" y2="713.61" stroke="#1B9E77" stroke-width="0.9198000000000001"/>
<line x1="135.90" y1="655.25" x2="135.90" y2="658.21" stroke="#D95F02" stroke-width="0.9198000000000001"/>
<line x1="166.30" y1="675.15" x2="166.30" y2="678.11" stroke="#D95F02" stroke-width="0.9198000000000001"/>
<line x1="170.40" y1="675.15" x2="170.40" y2="678.11" stroke="#D95F02" stroke-width="0.9198000000000001"/>
<line x1="175.10" y1="675.15" x2="175.10" y2="678.11" stroke="#D95F02" stroke-width="0.9198000000000001"/>
<line x1="179.20" y1="675.15" x2="179.20" y2="678.11" stroke="#D95F02" stroke-width="0.9198000000000001"/>
<line x1="182.70" y1="675.15" x2="182.70" y2="678.11" stroke="#D95F02" stroke-width="0.9198000000000001"/>
<line x1="205.40" y1="684.15" x2="205.40" y2="687.11" stroke="#D95F02" stroke-width="0.9198000000000001"/>
<line x1="216.10" y1="684.15" x2="216.10" y2="687.11" stroke="#D95F02" stroke-width="0.9198000000000001"/>
<line x1="221.50" y1="684.15" x2="221.50" y2="687.11" stroke="#D95F02" stroke-width="0.9198000000000001"/>
<line x1="283.00" y1="731.85" x2="283.00" y2="734.81" stroke="#D95F02" stroke-width="0.9198000000000001"/>
<line x1="317.30" y1="731.85" x2="317.30" y2="734.81" stroke="#D95F02" stroke-width="0.9198000000000001"/>
<line x1="180.90" y1="711.85" x2="180.90" y2="714.81" stroke="#7570B3" stroke-width="0.9198000000000001"/>
<line x1="187.90" y1="714.85" x2="187.90" y2="717.81" stroke="#7570B3" stroke-width="0.9198000000000001"/>
<line x1="209.10" y1="720.95" x2="209.10" y2="723.91" stroke="#7570B3" stroke-width="0.9198000000000001"/>
<line x1="212.00" y1="720.95" x2="212.00" y2="723.91" stroke="#7570B3" stroke-width="0.9198000000000001"/>
<line x1="216.40" y1="720.95" x2="216.40" y2="723.91" stroke="#7570B3" stroke-width="0.9198000000000001"/>
<line x1="233.20" y1="720.95" x2="233.20" y2="723.91" stroke="#7570B3" stroke-width="0.9198000000000001"/>
<line x1="253.60" y1="726.65" x2="253.60" y2="729.61" stroke="#7570B3" stroke-width="0.9198000000000001"/>
<line x1="263.80" y1="726.65" x2="263.80" y2="729.61" stroke="#7570B3" stroke-width="0.9198000000000001"/>
<line x1="266.00" y1="726.65" x2="266.00" y2="729.61" stroke="#7570B3" stroke-width="0.9198000000000001"/>
<line x1="306.40" y1="726.65" x2="306.40" y2="729.61" stroke="#7570B3" stroke-width="0.9198000000000001"/>
<line x1="322.40" y1="726.65" x2="322.40" y2="729.61" stroke="#7570B3" stroke-width="0.9198000000000001"/>
<line x1="334.10" y1="726.65" x2="334.10" y2="729.61" stroke="#7570B3" stroke-width="0.9198000000000001"/>
<polygon points="423.0,659.2 464.0,659.2 464.0,674.2 490.0,674.0 521.4,678.3 537.4,685.6 557.9,687.0 559.8,698.4 667.6,698.4 667.6,755.6 558.0,755.0 558.0,744.0 541.0,739.6 537.0,739.0 495.0,731.0 465.0,716.0 463.0,697.0 461.0,680.0 458.0,665.0" fill="#1B9E77" fill-opacity="0.16" stroke="none"/>
<polygon points="423.0,659.2 564.5,659.4 564.5,698.7 490.0,698.7 464.0,698.7 455.9,690.5 447.7,681.2 441.9,671.9 438.0,665.0" fill="#D95F02" fill-opacity="0.16" stroke="none"/>
<polygon points="423.0,659.2 426.7,660.8 435.4,663.7 440.1,671.9 446.5,680.0 454.7,685.9 465.2,697.5 490.0,699.4 497.3,699.4 498.0,706.0 541.0,707.5 636.2,707.5 636.2,744.7 558.0,744.7 541.0,744.7 537.4,738.1 498.0,738.1 498.0,731.6 485.0,732.0 476.9,726.7 465.2,718.6 455.9,711.6 448.9,706.9 437.2,684.7 429.0,669.5 425.0,663.0" fill="#7570B3" fill-opacity="0.16" stroke="none"/>
<polyline points="423.0,659.2 455.9,659.2 456.5,663.1 460.5,663.1 461.7,667.2 463.5,675.4 464.6,682.4 466.4,697.1 492.2,697.3 492.2,703.4 521.8,703.6 521.8,711.1 537.4,711.1 537.4,720.3 557.9,720.3 559.8,739.2 667.6,739.2 667.6,766.6" fill="none" stroke="#1B9E77" stroke-width="1.47" stroke-linejoin="miter"/>
<polyline points="423.0,659.2 439.5,659.2 440.1,664.3 445.4,664.3 445.9,670.1 455.3,670.1 455.9,675.4 461.7,675.4 462.3,681.3 564.5,681.3" fill="none" stroke="#D95F02" stroke-width="1.47" stroke-linejoin="miter"/>
<polyline points="423.0,659.2 426.1,661.9 430.2,665.4 434.9,665.4 436.6,670.7 437.8,677.1 440.1,681.2 443.0,686.5 446.5,689.4 448.9,695.8 453.0,697.5 453.5,701.6 459.4,702.2 460.0,704.6 465.2,705.1 469.9,709.2 476.3,715.6 487.4,715.6 488.6,718.1 497.3,718.4 498.5,724.3 541.1,724.3 541.8,730.2 636.2,730.2" fill="none" stroke="#7570B3" stroke-width="1.47" stroke-linejoin="miter"/>
<path d="M411.10,653.50 V772.50 H671.90" fill="none" stroke="#333333" stroke-width="1.11"/>
<line x1="409.08" y1="767.20" x2="411.10" y2="767.20" stroke="#333333" stroke-width="1.1121"/>
<text x="409.08" y="769.53" font-size="6.5714999999999995" text-anchor="end" fill="#4d4d4d" font-weight="normal" >0</text>
<line x1="409.08" y1="740.20" x2="411.10" y2="740.20" stroke="#333333" stroke-width="1.1121"/>
<text x="409.08" y="742.53" font-size="6.5714999999999995" text-anchor="end" fill="#4d4d4d" font-weight="normal" >25</text>
<line x1="409.08" y1="713.20" x2="411.10" y2="713.20" stroke="#333333" stroke-width="1.1121"/>
<text x="409.08" y="715.53" font-size="6.5714999999999995" text-anchor="end" fill="#4d4d4d" font-weight="normal" >50</text>
<line x1="409.08" y1="686.20" x2="411.10" y2="686.20" stroke="#333333" stroke-width="1.1121"/>
<text x="409.08" y="688.53" font-size="6.5714999999999995" text-anchor="end" fill="#4d4d4d" font-weight="normal" >75</text>
<line x1="409.08" y1="659.20" x2="411.10" y2="659.20" stroke="#333333" stroke-width="1.1121"/>
<text x="409.08" y="661.53" font-size="6.5714999999999995" text-anchor="end" fill="#4d4d4d" font-weight="normal" >100</text>
<line x1="423.00" y1="772.50" x2="423.00" y2="774.52" stroke="#333333" stroke-width="1.1121"/>
<text x="423.00" y="779.98" font-size="6.672599999999999" text-anchor="middle" fill="#4d4d4d" font-weight="normal" >0</text>
<line x1="482.31" y1="772.50" x2="482.31" y2="774.52" stroke="#333333" stroke-width="1.1121"/>
<text x="482.31" y="779.98" font-size="6.672599999999999" text-anchor="middle" fill="#4d4d4d" font-weight="normal" >30</text>
<line x1="541.62" y1="772.50" x2="541.62" y2="774.52" stroke="#333333" stroke-width="1.1121"/>
<text x="541.62" y="779.98" font-size="6.672599999999999" text-anchor="middle" fill="#4d4d4d" font-weight="normal" >60</text>
<line x1="600.93" y1="772.50" x2="600.93" y2="774.52" stroke="#333333" stroke-width="1.1121"/>
<text x="600.93" y="779.98" font-size="6.672599999999999" text-anchor="middle" fill="#4d4d4d" font-weight="normal" >90</text>
<line x1="660.24" y1="772.50" x2="660.24" y2="774.52" stroke="#333333" stroke-width="1.1121"/>
<text x="660.24" y="779.98" font-size="6.672599999999999" text-anchor="middle" fill="#4d4d4d" font-weight="normal" >120</text>
<text x="538.70" y="787.66" font-size="7.380299999999999" text-anchor="middle" fill="#000" font-weight="normal" >Time</text>
<text x="0" y="0" font-size="7.18" text-anchor="middle" fill="#222" transform="translate(395.93,713.00) rotate(-90)">Survival probability (%)</text>
<text x="428.00" y="769.20" font-size="6.975899999999999" text-anchor="start" fill="#222" font-weight="normal" >p = 0.028</text>
<path d="M449.30,805.10 V826.40 H671.10" fill="none" stroke="#333333" stroke-width="1.11"/>
<text x="449.30" y="800.30" font-size="8.13" text-anchor="start" fill="#111" font-weight="normal" >Number at risk</text>
<line x1="447.28" y1="808.50" x2="449.30" y2="808.50" stroke="#333333" stroke-width="1.1121"/>
<text x="446.27" y="810.52" font-size="5.92" text-anchor="end" fill="#1B9E77" font-weight="normal" >R525=0</text>
<text x="458.90" y="810.93" font-size="6.874799999999999" text-anchor="middle" fill="#222" font-weight="normal" >31</text>
<text x="509.10" y="810.93" font-size="6.874799999999999" text-anchor="middle" fill="#222" font-weight="normal" >14</text>
<text x="559.30" y="810.93" font-size="6.874799999999999" text-anchor="middle" fill="#222" font-weight="normal" >5</text>
<text x="609.50" y="810.93" font-size="6.874799999999999" text-anchor="middle" fill="#222" font-weight="normal" >2</text>
<text x="659.70" y="810.93" font-size="6.874799999999999" text-anchor="middle" fill="#222" font-weight="normal" >1</text>
<line x1="447.28" y1="815.00" x2="449.30" y2="815.00" stroke="#333333" stroke-width="1.1121"/>
<text x="446.27" y="817.02" font-size="5.92" text-anchor="end" fill="#D95F02" font-weight="normal" >R525=1</text>
<text x="458.90" y="817.43" font-size="6.874799999999999" text-anchor="middle" fill="#222" font-weight="normal" >20</text>
<text x="509.10" y="817.43" font-size="6.874799999999999" text-anchor="middle" fill="#222" font-weight="normal" >9</text>
<text x="559.30" y="817.43" font-size="6.874799999999999" text-anchor="middle" fill="#222" font-weight="normal" >2</text>
<text x="609.50" y="817.43" font-size="6.874799999999999" text-anchor="middle" fill="#222" font-weight="normal" >0</text>
<text x="659.70" y="817.43" font-size="6.874799999999999" text-anchor="middle" fill="#222" font-weight="normal" >0</text>
<line x1="447.28" y1="822.30" x2="449.30" y2="822.30" stroke="#333333" stroke-width="1.1121"/>
<text x="446.27" y="824.32" font-size="5.92" text-anchor="end" fill="#7570B3" font-weight="normal" >DDX41 WT</text>
<text x="458.90" y="824.73" font-size="6.874799999999999" text-anchor="middle" fill="#222" font-weight="normal" >51</text>
<text x="509.10" y="824.73" font-size="6.874799999999999" text-anchor="middle" fill="#222" font-weight="normal" >19</text>
<text x="559.30" y="824.73" font-size="6.874799999999999" text-anchor="middle" fill="#222" font-weight="normal" >6</text>
<text x="609.50" y="824.73" font-size="6.874799999999999" text-anchor="middle" fill="#222" font-weight="normal" >3</text>
<text x="659.70" y="824.73" font-size="6.874799999999999" text-anchor="middle" fill="#222" font-weight="normal" >0</text>
<line x1="458.90" y1="826.40" x2="458.90" y2="828.42" stroke="#333333" stroke-width="1.1121"/>
<text x="458.90" y="833.98" font-size="6.268199999999999" text-anchor="middle" fill="#4d4d4d" font-weight="normal" >0</text>
<line x1="509.10" y1="826.40" x2="509.10" y2="828.42" stroke="#333333" stroke-width="1.1121"/>
<text x="509.10" y="833.98" font-size="6.268199999999999" text-anchor="middle" fill="#4d4d4d" font-weight="normal" >30</text>
<line x1="559.30" y1="826.40" x2="559.30" y2="828.42" stroke="#333333" stroke-width="1.1121"/>
<text x="559.30" y="833.98" font-size="6.268199999999999" text-anchor="middle" fill="#4d4d4d" font-weight="normal" >60</text>
<line x1="609.50" y1="826.40" x2="609.50" y2="828.42" stroke="#333333" stroke-width="1.1121"/>
<text x="609.50" y="833.98" font-size="6.268199999999999" text-anchor="middle" fill="#4d4d4d" font-weight="normal" >90</text>
<line x1="659.70" y1="826.40" x2="659.70" y2="828.42" stroke="#333333" stroke-width="1.1121"/>
<text x="659.70" y="833.98" font-size="6.268199999999999" text-anchor="middle" fill="#4d4d4d" font-weight="normal" >120</text>
<text x="560.80" y="840.76" font-size="6.975899999999999" text-anchor="middle" fill="#000" font-weight="normal" >Time</text>
<text x="0" y="0" font-size="6.87" text-anchor="middle" fill="#222" transform="translate(395.43,815.80) rotate(-90)">Strata</text>
<line x1="441.90" y1="656.87" x2="441.90" y2="659.81" stroke="#1B9E77" stroke-width="0.9098999999999999"/>
<line x1="445.40" y1="656.87" x2="445.40" y2="659.81" stroke="#1B9E77" stroke-width="0.9098999999999999"/>
<line x1="448.90" y1="656.87" x2="448.90" y2="659.81" stroke="#1B9E77" stroke-width="0.9098999999999999"/>
<line x1="471.10" y1="694.81" x2="471.10" y2="697.74" stroke="#1B9E77" stroke-width="0.9098999999999999"/>
<line x1="474.60" y1="694.84" x2="474.60" y2="697.77" stroke="#1B9E77" stroke-width="0.9098999999999999"/>
<line x1="483.90" y1="694.91" x2="483.90" y2="697.84" stroke="#1B9E77" stroke-width="0.9098999999999999"/>
<line x1="487.40" y1="694.94" x2="487.40" y2="697.87" stroke="#1B9E77" stroke-width="0.9098999999999999"/>
<line x1="497.30" y1="701.11" x2="497.30" y2="704.04" stroke="#1B9E77" stroke-width="0.9098999999999999"/>
<line x1="524.30" y1="708.77" x2="524.30" y2="711.71" stroke="#1B9E77" stroke-width="0.9098999999999999"/>
<line x1="535.30" y1="708.77" x2="535.30" y2="711.71" stroke="#1B9E77" stroke-width="0.9098999999999999"/>
<line x1="585.60" y1="736.87" x2="585.60" y2="739.81" stroke="#1B9E77" stroke-width="0.9098999999999999"/>
<line x1="585.80" y1="736.87" x2="585.80" y2="739.81" stroke="#1B9E77" stroke-width="0.9098999999999999"/>
<line x1="619.40" y1="736.87" x2="619.40" y2="739.81" stroke="#1B9E77" stroke-width="0.9098999999999999"/>
<line x1="458.20" y1="673.07" x2="458.20" y2="676.01" stroke="#D95F02" stroke-width="0.9098999999999999"/>
<line x1="461.10" y1="673.07" x2="461.10" y2="676.01" stroke="#D95F02" stroke-width="0.9098999999999999"/>
<line x1="469.90" y1="678.97" x2="469.90" y2="681.91" stroke="#D95F02" stroke-width="0.9098999999999999"/>
<line x1="474.60" y1="678.97" x2="474.60" y2="681.91" stroke="#D95F02" stroke-width="0.9098999999999999"/>
<line x1="478.60" y1="678.97" x2="478.60" y2="681.91" stroke="#D95F02" stroke-width="0.9098999999999999"/>
<line x1="481.60" y1="678.97" x2="481.60" y2="681.91" stroke="#D95F02" stroke-width="0.9098999999999999"/>
<line x1="483.90" y1="678.97" x2="483.90" y2="681.91" stroke="#D95F02" stroke-width="0.9098999999999999"/>
<line x1="493.60" y1="678.97" x2="493.60" y2="681.91" stroke="#D95F02" stroke-width="0.9098999999999999"/>
<line x1="500.20" y1="678.97" x2="500.20" y2="681.91" stroke="#D95F02" stroke-width="0.9098999999999999"/>
<line x1="509.00" y1="678.97" x2="509.00" y2="681.91" stroke="#D95F02" stroke-width="0.9098999999999999"/>
<line x1="512.60" y1="678.97" x2="512.60" y2="681.91" stroke="#D95F02" stroke-width="0.9098999999999999"/>
<line x1="519.90" y1="678.97" x2="519.90" y2="681.91" stroke="#D95F02" stroke-width="0.9098999999999999"/>
<line x1="546.90" y1="678.97" x2="546.90" y2="681.91" stroke="#D95F02" stroke-width="0.9098999999999999"/>
<line x1="564.50" y1="678.97" x2="564.50" y2="681.91" stroke="#D95F02" stroke-width="0.9098999999999999"/>
<line x1="485.10" y1="713.27" x2="485.10" y2="716.21" stroke="#7570B3" stroke-width="0.9098999999999999"/>
<line x1="491.50" y1="715.87" x2="491.50" y2="718.81" stroke="#7570B3" stroke-width="0.9098999999999999"/>
<line x1="512.60" y1="721.97" x2="512.60" y2="724.91" stroke="#7570B3" stroke-width="0.9098999999999999"/>
<line x1="516.30" y1="721.97" x2="516.30" y2="724.91" stroke="#7570B3" stroke-width="0.9098999999999999"/>
<line x1="519.90" y1="721.97" x2="519.90" y2="724.91" stroke="#7570B3" stroke-width="0.9098999999999999"/>
<line x1="536.70" y1="721.97" x2="536.70" y2="724.91" stroke="#7570B3" stroke-width="0.9098999999999999"/>
<line x1="557.20" y1="727.87" x2="557.20" y2="730.81" stroke="#7570B3" stroke-width="0.9098999999999999"/>
<line x1="565.90" y1="727.87" x2="565.90" y2="730.81" stroke="#7570B3" stroke-width="0.9098999999999999"/>
<line x1="568.80" y1="727.87" x2="568.80" y2="730.81" stroke="#7570B3" stroke-width="0.9098999999999999"/>
<line x1="609.20" y1="727.87" x2="609.20" y2="730.81" stroke="#7570B3" stroke-width="0.9098999999999999"/>
<line x1="625.30" y1="727.87" x2="625.30" y2="730.81" stroke="#7570B3" stroke-width="0.9098999999999999"/>
<line x1="636.20" y1="727.87" x2="636.20" y2="730.81" stroke="#7570B3" stroke-width="0.9098999999999999"/>
</svg></body></html>
